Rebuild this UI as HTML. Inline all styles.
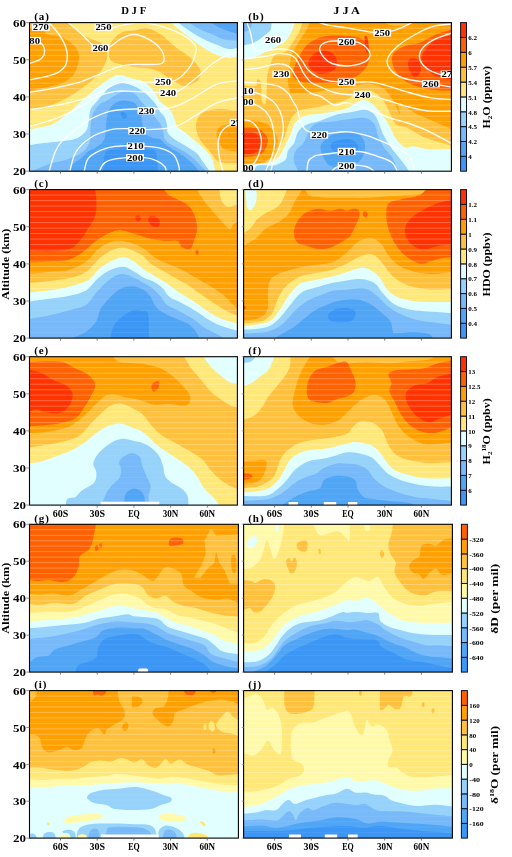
<!DOCTYPE html><html><head><meta charset="utf-8"><title>fig</title><style>html,body{margin:0;padding:0;background:#fff}svg{display:block}</style></head><body><svg width="512" height="857" viewBox="0 0 512 857" font-family="'Liberation Serif', serif" font-weight="bold" fill="#000"><rect width="512" height="857" fill="#fff"/><defs><clipPath id="ca"><rect x="29.5" y="22.6" width="207.9" height="148.6"/></clipPath><clipPath id="cb"><rect x="243.6" y="22.6" width="207.8" height="148.6"/></clipPath><clipPath id="cc"><rect x="29.5" y="189.6" width="207.9" height="148.5"/></clipPath><clipPath id="cd"><rect x="243.6" y="189.6" width="207.8" height="148.5"/></clipPath><clipPath id="ce"><rect x="29.5" y="356.7" width="207.9" height="148.4"/></clipPath><clipPath id="cf"><rect x="243.6" y="356.7" width="207.8" height="148.4"/></clipPath><clipPath id="cg"><rect x="29.5" y="524.3" width="208.9" height="147.8"/></clipPath><clipPath id="ch"><rect x="243.6" y="524.3" width="208.8" height="147.8"/></clipPath><clipPath id="ci"><rect x="29.5" y="690.6" width="208.9" height="147.5"/></clipPath><clipPath id="cj"><rect x="243.6" y="690.6" width="208.8" height="147.5"/></clipPath></defs><g clip-path="url(#ca)"><rect x="29.5" y="22.6" width="207.9" height="148.6" fill="#ffe878"/><path d="M67.3 20.0C69.4 22.1 76.0 29.3 79.8 32.4C83.6 35.5 86.7 36.9 90.1 38.6C93.6 40.4 97.8 41.0 100.5 42.8C103.2 44.5 105.2 46.2 106.3 49.0C107.3 51.7 107.6 55.5 106.7 59.3C105.7 63.1 103.2 68.0 100.5 71.8C97.7 75.6 95.3 78.0 90.1 82.1C84.9 86.2 76.3 92.6 69.4 96.6C62.5 100.6 56.3 103.8 48.7 105.9C41.1 108.1 28.0 108.9 23.9 109.4L23.9 15.9Z" fill="#ffc03c"/><path d="M23.9 26.2C26.6 26.7 36.3 27.9 40.4 29.3C44.6 30.7 44.9 33.1 48.7 34.5C52.5 35.9 58.5 35.2 63.2 37.6C67.9 40.0 74.1 45.0 76.7 49.0C79.2 53.0 79.4 56.9 78.7 61.4C78.0 65.9 75.8 72.1 72.5 75.9C69.2 79.7 64.4 82.1 59.1 84.2C53.7 86.2 46.3 87.1 40.4 88.3C34.6 89.5 26.6 90.9 23.9 91.4Z" fill="#ffa000"/><path d="M108.7 51.1C108.7 48.1 108.7 45.9 110.8 42.8C112.9 39.7 117.3 34.5 121.2 32.4C125.0 30.4 129.8 31.0 134.0 30.4C138.2 29.7 141.9 27.6 146.4 28.3C150.9 29.0 156.1 31.4 160.9 34.5C165.7 37.6 170.6 43.1 175.4 46.9C180.2 50.7 185.8 53.5 189.9 57.3C194.0 61.1 198.9 65.9 200.2 69.7C201.6 73.5 200.6 77.3 198.2 80.0C195.8 82.8 189.6 85.9 185.8 86.2C182.0 86.6 180.6 84.9 175.4 82.1C170.2 79.3 161.6 72.2 154.7 69.7C147.8 67.2 139.6 68.1 134.0 67.2C128.4 66.3 125.0 65.7 121.2 64.5C117.3 63.4 112.9 62.6 110.8 60.4C108.7 58.1 108.7 54.0 108.7 51.1Z" fill="#ffc03c"/><path d="M243.7 112.1C239.9 111.6 227.2 109.2 221.0 109.0C214.7 108.9 210.3 109.7 206.5 111.1C202.7 112.5 199.9 114.5 198.2 117.3C196.5 120.1 195.8 123.9 196.1 127.7C196.5 131.5 197.8 135.9 200.2 140.1C202.7 144.2 207.8 149.0 210.6 152.5C213.4 156.0 214.4 159.1 216.8 160.8C219.2 162.5 220.6 162.5 225.1 162.9C229.6 163.2 240.6 162.9 243.7 162.9Z" fill="#ffc03c"/><path d="M243.7 123.1C240.3 123.5 227.5 124.1 223.0 125.6C218.5 127.0 217.5 129.0 216.8 131.8C216.1 134.6 217.5 139.2 218.9 142.1C220.3 145.1 221.0 147.8 225.1 149.4C229.2 151.0 240.6 151.5 243.7 151.9Z" fill="#ffa000"/><path d="M29.5 28.10H237.4M29.5 33.61H237.4M29.5 39.11H237.4M29.5 44.61H237.4M29.5 50.12H237.4M29.5 55.62H237.4M29.5 61.13H237.4M29.5 66.63H237.4M29.5 72.13H237.4M29.5 77.64H237.4M29.5 83.14H237.4M29.5 88.64H237.4M29.5 94.15H237.4M29.5 99.65H237.4M29.5 105.16H237.4M29.5 110.66H237.4M29.5 116.16H237.4M29.5 121.67H237.4M29.5 127.17H237.4M29.5 132.67H237.4M29.5 138.18H237.4M29.5 143.68H237.4M29.5 149.19H237.4M29.5 154.69H237.4M29.5 160.19H237.4M29.5 165.70H237.4" stroke="#fff" stroke-opacity="0.3" stroke-width="0.75" fill="none"/><path d="M23.9 130.1C28.0 129.4 42.1 127.7 48.7 125.6C55.3 123.4 58.0 121.1 63.2 117.3C68.4 113.5 74.2 107.6 79.8 102.8C85.3 98.0 91.1 92.5 96.3 88.3C101.5 84.2 107.0 80.2 110.8 78.0C114.6 75.7 115.2 74.7 119.1 74.9C123.0 75.0 129.8 77.8 134.0 79.0C138.2 80.2 140.9 79.9 144.4 82.1C147.8 84.4 152.1 89.2 154.7 92.5C157.3 95.7 158.1 99.3 160.0 101.6C161.9 103.9 164.3 104.4 166.2 106.2C168.2 108.1 170.3 110.2 171.7 112.5C173.2 114.8 173.9 118.0 174.8 120.3C175.8 122.7 175.8 124.7 177.2 126.6C178.6 128.4 181.1 129.4 183.4 131.2C185.8 133.1 188.8 135.4 191.2 137.5C193.7 139.6 195.9 141.7 198.3 143.8C200.6 145.8 203.1 147.7 205.3 150.0C207.5 152.3 210.1 155.2 211.6 157.8C213.0 160.4 213.1 162.8 213.9 165.6C214.7 168.5 216.1 173.4 216.6 175.0L245.0 190.0L10.0 190.0Z" fill="#e1ffff"/><path d="M26.4 145.6C29.3 145.2 38.2 143.7 43.6 143.0C49.1 142.3 54.0 142.1 59.2 141.4C64.5 140.8 70.4 140.8 74.9 139.1C79.3 137.4 83.5 134.4 85.8 131.2C88.2 128.1 88.2 124.0 88.9 120.3C89.7 116.7 89.2 112.5 90.5 109.4C91.8 106.2 94.4 104.4 96.8 101.6C99.1 98.7 102.3 94.9 104.6 92.5C106.9 90.0 108.1 88.2 110.8 86.7C113.6 85.1 117.3 83.2 121.2 83.1C125.0 83.1 130.1 84.7 134.0 86.2C137.9 87.8 140.9 89.7 144.4 92.5C147.8 95.2 152.1 99.6 154.7 102.8C157.3 106.0 158.3 109.3 160.0 111.7C161.7 114.1 163.5 115.0 164.7 117.2C165.9 119.4 166.5 122.4 167.0 125.0C167.6 127.6 166.6 130.5 167.8 132.8C169.0 135.2 171.7 137.2 174.1 139.1C176.4 140.9 179.3 142.2 181.9 143.8C184.5 145.3 187.1 146.7 189.7 148.4C192.3 150.1 195.4 151.8 197.5 153.9C199.6 156.0 200.6 158.7 202.2 160.9C203.8 163.2 205.3 164.8 206.9 167.2C208.5 169.5 211.0 173.7 211.9 175.0L245.0 190.0L10.0 190.0Z" fill="#96d2fa"/><path d="M26.4 173.4C28.3 172.7 33.2 170.4 37.4 168.8C41.5 167.1 46.5 164.8 51.4 163.3C56.4 161.7 62.1 161.1 67.1 159.4C72.0 157.7 77.3 156.0 81.1 153.1C84.9 150.3 88.2 146.6 89.7 142.2C91.3 137.8 90.0 131.2 90.5 126.6C91.0 121.9 91.4 117.7 92.8 114.1C94.3 110.4 96.8 106.9 99.1 104.7C101.4 102.5 103.0 102.8 106.7 100.7C110.4 98.7 116.6 93.7 121.2 92.5C125.7 91.3 130.5 91.8 134.0 93.5C137.5 95.2 139.5 99.9 142.3 102.8C145.0 105.7 148.1 108.3 150.6 111.1C153.0 113.9 155.2 117.3 156.8 119.4C158.3 121.4 158.9 121.5 160.0 123.4C161.1 125.4 162.3 128.6 163.1 131.2C163.9 133.9 163.4 136.8 164.7 139.1C166.0 141.3 168.6 143.0 170.9 144.5C173.3 146.1 176.1 147.0 178.8 148.4C181.4 149.9 184.1 151.4 186.6 153.1C189.0 154.8 191.5 156.8 193.6 158.6C195.7 160.4 197.4 162.4 199.1 164.1C200.8 165.8 202.1 166.9 203.8 168.8C205.4 170.6 207.9 174.0 208.8 175.0L245.0 190.0L10.0 190.0Z" fill="#78b9fa"/><path d="M67.1 175.0C68.1 173.2 71.0 166.8 73.3 164.1C75.7 161.3 78.7 160.7 81.1 158.6C83.6 156.5 85.6 153.5 88.2 151.6C90.8 149.6 94.1 148.7 96.8 146.9C99.4 145.1 102.3 143.2 103.8 140.6C105.3 138.0 105.3 134.8 105.8 131.2C106.3 127.7 105.8 123.4 106.6 119.4C107.4 115.3 108.4 110.1 110.8 107.0C113.2 103.8 117.3 101.4 121.2 100.7C125.0 100.1 130.8 101.1 134.0 102.8C137.2 104.5 138.8 107.6 140.2 111.1C141.6 114.5 141.6 119.9 142.3 123.5C143.0 127.1 142.6 130.4 144.4 132.8C146.1 135.2 150.0 137.0 152.6 138.0C155.2 139.0 157.7 137.8 160.0 139.1C162.3 140.3 163.9 143.5 166.2 145.3C168.6 147.1 171.5 148.4 174.1 150.0C176.7 151.6 179.3 152.9 181.9 154.7C184.5 156.5 187.3 158.9 189.7 160.9C192.0 163.0 194.1 164.8 195.9 167.2C197.8 169.5 200.1 173.7 200.9 175.0L245.0 190.0L10.0 190.0Z" fill="#50a5f5"/><path d="M103.0 178.0C103.2 174.7 103.2 162.6 104.0 158.0C104.8 153.4 105.5 152.1 108.0 150.5C110.5 148.9 115.8 149.8 119.0 148.5C122.2 147.2 123.5 143.5 127.0 142.5C130.5 141.5 136.8 141.6 140.0 142.5C143.2 143.4 143.8 146.8 146.0 148.0C148.2 149.2 151.2 148.2 153.0 149.5C154.8 150.8 156.2 151.2 157.0 156.0C157.8 160.8 157.8 174.3 158.0 178.0Z" fill="#3c96f5"/><path d="M121.2 112.1C121.9 111.8 124.3 112.3 125.3 113.2C126.3 114.0 127.3 116.4 127.0 117.3C126.6 118.2 124.3 118.7 123.2 118.3C122.2 118.0 121.1 116.3 120.8 115.2C120.4 114.2 120.4 112.5 121.2 112.1Z" fill="#3c96f5"/><path d="M165.1 17.9C168.5 20.7 179.5 29.7 185.8 34.5C192.0 39.3 197.1 43.5 202.3 46.9C207.5 50.3 212.3 53.0 216.8 54.8C221.3 56.6 224.4 57.9 229.2 57.9C234.1 57.9 243.0 55.3 245.8 54.8L250.0 10.0Z" fill="#e1ffff"/><path d="M172.3 17.9C174.5 19.7 180.8 24.8 185.8 28.3C190.8 31.7 197.1 35.9 202.3 38.6C207.5 41.4 212.3 43.1 216.8 44.8C221.3 46.6 224.4 48.7 229.2 49.0C234.1 49.3 243.0 46.9 245.8 46.5L250.0 10.0Z" fill="#96d2fa"/><path d="M183.7 17.9C185.8 19.5 191.3 24.5 196.1 27.2C200.9 30.0 207.8 32.4 212.7 34.5C217.5 36.6 219.6 38.6 225.1 39.7C230.6 40.7 242.3 40.5 245.8 40.7L250.0 10.0Z" fill="#78b9fa"/><path d="M204.4 17.9C207.2 19.7 214.1 25.2 221.0 28.3C227.9 31.4 241.7 35.2 245.8 36.6L250.0 10.0Z" fill="#50a5f5"/><path d="M29.5 28.10H237.4M29.5 33.61H237.4M29.5 39.11H237.4M29.5 44.61H237.4M29.5 50.12H237.4M29.5 55.62H237.4M29.5 61.13H237.4M29.5 66.63H237.4M29.5 72.13H237.4M29.5 77.64H237.4M29.5 83.14H237.4M29.5 88.64H237.4M29.5 94.15H237.4M29.5 99.65H237.4M29.5 105.16H237.4M29.5 110.66H237.4M29.5 116.16H237.4M29.5 121.67H237.4M29.5 127.17H237.4M29.5 132.67H237.4M29.5 138.18H237.4M29.5 143.68H237.4M29.5 149.19H237.4M29.5 154.69H237.4M29.5 160.19H237.4M29.5 165.70H237.4" stroke="#fff" stroke-opacity="0.1" stroke-width="0.75" fill="none"/><path d="M25.9 37.6C28.3 38.5 37.3 40.5 40.4 42.8C43.5 45.0 44.6 48.3 44.6 51.1C44.6 53.8 43.5 57.1 40.4 59.3C37.3 61.6 28.3 63.6 25.9 64.5" fill="none" stroke="#fff" stroke-width="1.35" stroke-opacity="0.95"/><path d="M46.6 20.0C48.7 22.4 55.8 29.7 59.1 34.5C62.3 39.3 65.1 44.2 66.3 49.0C67.5 53.8 67.5 59.7 66.3 63.5C65.1 67.3 62.7 69.5 59.1 71.8C55.4 74.0 50.1 75.5 44.6 76.9C39.0 78.4 29.0 79.9 25.9 80.5" fill="none" stroke="#fff" stroke-width="1.35" stroke-opacity="0.95"/><path d="M65.3 20.0C67.7 22.1 76.0 29.0 79.8 32.4C83.6 35.9 85.3 38.2 88.0 40.7C90.8 43.2 93.0 46.1 96.3 47.3C99.6 48.5 103.6 49.4 107.7 47.9C111.8 46.5 116.8 40.9 121.2 38.6C125.5 36.4 129.8 34.6 134.0 34.5C138.2 34.4 142.3 36.1 146.4 38.2C150.6 40.3 155.9 43.7 158.8 46.9C161.8 50.1 163.8 54.4 164.0 57.3C164.2 60.1 164.9 62.7 159.9 63.9C154.9 65.1 140.8 64.1 134.0 64.5C127.2 65.0 124.7 65.0 119.1 66.6C113.5 68.1 107.0 71.2 100.5 73.8C93.9 76.4 87.7 79.7 79.8 82.1C71.8 84.5 61.8 86.5 52.8 88.3C43.9 90.1 30.4 92.1 25.9 92.9" fill="none" stroke="#fff" stroke-width="1.35" stroke-opacity="0.95"/><path d="M110.8 28.3C113.2 27.7 119.4 25.4 125.3 24.6C131.2 23.7 138.1 22.0 146.4 23.1C154.8 24.2 167.5 27.9 175.4 31.4C183.3 34.8 190.8 39.8 194.0 43.8C197.3 47.8 196.1 50.9 195.1 55.2C194.0 59.5 191.5 65.4 187.8 69.7C184.2 74.0 180.2 79.0 173.3 81.1C166.4 83.1 154.8 81.9 146.4 82.1C138.1 82.3 129.2 81.4 123.2 82.1C117.3 82.8 116.3 83.8 110.8 86.2C105.3 88.7 98.7 93.5 90.1 96.6C81.5 99.7 69.8 102.6 59.1 104.9C48.4 107.1 31.5 109.2 25.9 110.1" fill="none" stroke="#fff" stroke-width="1.35" stroke-opacity="0.95"/><path d="M241.7 51.1C239.2 51.7 232.0 53.1 227.2 55.2C222.3 57.3 217.8 59.7 212.7 63.5C207.5 67.3 202.0 73.3 196.1 78.0C190.2 82.6 183.7 89.0 177.5 91.4C171.3 93.8 166.1 92.5 158.8 92.5C151.6 92.5 141.3 91.6 134.0 91.4C126.7 91.3 121.2 90.5 115.0 91.4C108.7 92.4 102.2 94.4 96.3 97.0C90.5 99.6 86.0 103.6 79.8 107.0C73.5 110.3 68.0 113.9 59.1 117.3C50.1 120.8 31.5 125.9 25.9 127.7" fill="none" stroke="#fff" stroke-width="1.35" stroke-opacity="0.95"/><path d="M241.7 80.5C237.5 81.1 225.1 81.1 216.8 84.2C208.5 87.2 199.9 94.7 192.0 98.7C184.0 102.6 178.9 106.3 169.2 108.0C159.5 109.7 143.7 108.5 134.0 109.0C124.3 109.5 118.1 109.4 110.8 111.1C103.5 112.8 96.0 116.3 90.1 119.4C84.2 122.5 80.4 125.9 75.6 129.7C70.8 133.5 64.6 138.4 61.1 142.1C57.7 145.9 57.0 147.3 54.9 152.5C52.8 157.7 49.7 169.8 48.7 173.2" fill="none" stroke="#fff" stroke-width="1.35" stroke-opacity="0.95"/><path d="M241.7 97.0C237.5 98.0 224.4 99.8 216.8 102.8C209.2 105.8 203.0 111.3 196.1 115.2C189.2 119.2 183.7 124.2 175.4 126.6C167.1 129.0 154.1 129.4 146.4 129.7C138.8 130.1 135.4 128.7 129.4 128.7C123.5 128.7 117.4 128.2 110.8 129.7C104.3 131.3 96.0 134.2 90.1 138.0C84.2 141.8 79.1 146.6 75.6 152.5C72.2 158.4 70.4 169.8 69.4 173.2" fill="none" stroke="#fff" stroke-width="1.35" stroke-opacity="0.95"/><path d="M241.7 120.4C238.9 121.6 228.9 124.7 225.1 127.7C221.3 130.6 219.9 133.5 218.9 138.0C217.8 142.5 218.1 148.7 218.9 154.6C219.6 160.4 222.7 170.1 223.4 173.2" fill="none" stroke="#fff" stroke-width="1.35" stroke-opacity="0.95"/><path d="M83.9 173.2C84.6 170.8 85.3 162.5 88.0 158.7C90.8 154.9 96.0 152.5 100.5 150.4C104.9 148.4 107.3 147.0 115.0 146.3C122.6 145.6 138.8 145.9 146.4 146.3C154.1 146.6 156.4 147.0 160.9 148.4C165.4 149.7 170.4 151.8 173.3 154.6C176.3 157.3 177.5 161.8 178.5 164.9C179.5 168.0 179.4 171.8 179.5 173.2" fill="none" stroke="#fff" stroke-width="1.35" stroke-opacity="0.95"/><path d="M98.4 173.2C99.4 171.5 101.5 165.3 104.6 162.9C107.7 160.4 110.4 159.6 117.0 158.7C123.6 157.8 137.7 157.3 144.4 157.7C151.0 158.0 153.3 159.2 156.8 160.8C160.2 162.3 163.5 164.9 165.1 167.0C166.6 169.1 165.9 172.2 166.1 173.2" fill="none" stroke="#fff" stroke-width="1.35" stroke-opacity="0.95"/><rect x="31.9" y="23.5" width="17.8" height="7.4" fill="#fff"/><text x="32.8" y="30.2" font-size="8.8" textLength="16.0" lengthAdjust="spacingAndGlyphs">270</text><rect x="28.4" y="37.0" width="12.5" height="7.4" fill="#fff"/><text x="29.3" y="43.7" font-size="8.8" textLength="10.7" lengthAdjust="spacingAndGlyphs">80</text><rect x="94.6" y="23.5" width="17.8" height="7.4" fill="#fff"/><text x="95.5" y="30.2" font-size="8.8" textLength="16.0" lengthAdjust="spacingAndGlyphs">250</text><rect x="91.5" y="44.2" width="17.8" height="7.4" fill="#fff"/><text x="92.4" y="50.9" font-size="8.8" textLength="16.0" lengthAdjust="spacingAndGlyphs">260</text><rect x="154.1" y="78.0" width="17.8" height="7.4" fill="#fff"/><text x="155.0" y="84.7" font-size="8.8" textLength="16.0" lengthAdjust="spacingAndGlyphs">250</text><rect x="159.2" y="89.2" width="17.8" height="7.4" fill="#fff"/><text x="160.1" y="95.9" font-size="8.8" textLength="16.0" lengthAdjust="spacingAndGlyphs">240</text><rect x="137.5" y="107.0" width="17.8" height="7.4" fill="#fff"/><text x="138.4" y="113.7" font-size="8.8" textLength="16.0" lengthAdjust="spacingAndGlyphs">230</text><rect x="128.2" y="127.1" width="17.8" height="7.4" fill="#fff"/><text x="129.1" y="133.8" font-size="8.8" textLength="16.0" lengthAdjust="spacingAndGlyphs">220</text><rect x="126.7" y="142.6" width="17.8" height="7.4" fill="#fff"/><text x="127.6" y="149.3" font-size="8.8" textLength="16.0" lengthAdjust="spacingAndGlyphs">210</text><rect x="126.1" y="154.0" width="17.8" height="7.4" fill="#fff"/><text x="127.0" y="160.7" font-size="8.8" textLength="16.0" lengthAdjust="spacingAndGlyphs">200</text><rect x="229.6" y="118.8" width="12.5" height="7.4" fill="#fff"/><text x="230.5" y="125.5" font-size="8.8" textLength="10.7" lengthAdjust="spacingAndGlyphs">27</text></g><rect x="29.5" y="22.6" width="207.9" height="148.6" fill="none" stroke="#000" stroke-width="1.1"/><text x="34.2" y="19.9" font-size="11" letter-spacing="0.9">(a)</text><path d="M29.5 22.6h-3.2" stroke="#777" stroke-width="0.8"/><text x="13.0" y="26.7" font-size="10.9" textLength="13.0" lengthAdjust="spacingAndGlyphs">60</text><path d="M29.5 59.8h-3.2" stroke="#777" stroke-width="0.8"/><text x="13.0" y="63.9" font-size="10.9" textLength="13.0" lengthAdjust="spacingAndGlyphs">50</text><path d="M29.5 96.9h-3.2" stroke="#777" stroke-width="0.8"/><text x="13.0" y="101.0" font-size="10.9" textLength="13.0" lengthAdjust="spacingAndGlyphs">40</text><path d="M29.5 134.0h-3.2" stroke="#777" stroke-width="0.8"/><text x="13.0" y="138.1" font-size="10.9" textLength="13.0" lengthAdjust="spacingAndGlyphs">30</text><path d="M29.5 171.2h-3.2" stroke="#777" stroke-width="0.8"/><text x="13.0" y="175.3" font-size="10.9" textLength="13.0" lengthAdjust="spacingAndGlyphs">20</text><path d="M60.5 171.2v2.5" stroke="#555" stroke-width="0.8"/><path d="M97.2 171.2v2.5" stroke="#555" stroke-width="0.8"/><path d="M133.9 171.2v2.5" stroke="#555" stroke-width="0.8"/><path d="M170.6 171.2v2.5" stroke="#555" stroke-width="0.8"/><path d="M207.3 171.2v2.5" stroke="#555" stroke-width="0.8"/><g clip-path="url(#cb)"><rect x="243.6" y="22.6" width="207.8" height="148.6" fill="#ffa000"/><path d="M292.8 75.9C291.7 72.4 294.5 66.6 296.9 61.4C299.3 56.2 302.8 49.0 307.2 44.8C311.7 40.7 317.6 38.1 323.8 36.6C330.0 35.0 338.3 35.4 344.5 35.7C350.7 36.1 356.9 36.1 361.1 38.6C365.2 41.2 368.3 46.6 369.4 51.1C370.4 55.5 369.4 61.4 367.3 65.5C365.2 69.7 361.4 73.1 356.9 75.9C352.5 78.7 346.6 80.9 340.4 82.1C334.2 83.3 325.9 82.9 319.7 82.9C313.5 82.9 307.6 83.3 303.1 82.1C298.6 80.9 293.8 79.3 292.8 75.9Z" fill="#ff6000"/><path d="M308.5 65.5C307.7 62.5 310.1 57.7 312.6 55.2C315.2 52.7 320.2 50.6 323.8 50.6C327.5 50.6 332.4 52.7 334.6 55.2C336.8 57.7 337.8 62.7 337.1 65.5C336.3 68.4 333.3 70.9 330.0 72.2C326.8 73.5 321.2 74.5 317.6 73.4C314.0 72.3 309.3 68.6 308.5 65.5Z" fill="#ff3200"/><path d="M364.6 36.6C364.9 34.5 367.0 36.2 367.7 38.6C368.4 41.0 369.1 49.0 368.7 51.1C368.4 53.1 366.3 53.5 365.6 51.1C364.9 48.6 364.3 38.6 364.6 36.6Z" fill="#ff3200"/><path d="M456.7 28.3C453.3 29.3 442.2 32.1 436.0 34.5C429.8 36.9 425.0 40.7 419.5 42.8C413.9 44.8 407.4 44.8 402.9 46.9C398.4 49.0 393.9 51.4 392.5 55.2C391.2 59.0 392.2 65.2 394.6 69.7C397.0 74.2 402.2 79.0 407.0 82.1C411.9 85.2 418.1 86.9 423.6 88.3C429.1 89.7 434.6 90.0 440.2 90.4C445.7 90.7 454.0 90.4 456.7 90.4Z" fill="#ff6000"/><path d="M456.7 34.5C453.6 35.2 442.9 36.6 438.1 38.6C433.3 40.7 430.5 43.8 427.7 46.9C425.0 50.0 421.9 53.8 421.5 57.3C421.2 60.7 423.3 64.5 425.7 67.6C428.1 70.7 430.8 73.8 436.0 75.9C441.2 78.0 453.3 79.7 456.7 80.5Z" fill="#ff3200"/><path d="M408.1 61.4C408.6 59.2 411.4 58.3 413.2 58.3C415.1 58.3 418.3 59.2 419.5 61.4C420.7 63.6 421.2 69.2 420.5 71.8C419.8 74.3 417.0 76.9 415.3 76.9C413.6 76.9 411.4 74.3 410.1 71.8C408.9 69.2 407.6 63.6 408.1 61.4Z" fill="#ff3200"/><path d="M378.1 19.0C379.8 19.9 384.6 23.4 388.4 24.6C392.2 25.7 396.7 26.0 400.8 25.8C405.0 25.6 410.5 24.2 413.2 23.1C416.0 22.0 416.7 19.7 417.4 19.0Z" fill="#ffc03c"/><path d="M311.3 18.4C310.5 20.3 308.7 25.5 306.6 29.4C304.5 33.3 301.2 38.0 298.8 41.9C296.5 45.8 294.1 48.6 292.6 52.8C291.0 57.0 290.2 61.9 289.4 66.9C288.7 71.8 287.6 77.8 287.9 82.5C288.1 87.2 290.6 93.2 291.0 95.0C291.4 96.8 286.3 93.9 290.0 93.4C293.7 93.0 306.4 93.0 313.4 92.3C320.5 91.5 326.6 89.5 332.2 88.8C337.8 88.0 342.3 88.3 347.0 87.6C351.6 86.9 356.1 85.1 360.3 84.5C364.5 83.9 368.1 83.4 372.0 84.1C375.9 84.8 380.2 86.0 383.8 88.8C387.3 91.5 390.4 96.2 393.1 100.5C395.9 104.8 399.2 114.1 400.2 114.5C401.1 114.9 396.2 103.0 398.8 102.8C401.3 102.6 409.5 110.1 415.3 113.2C421.2 116.3 427.1 118.4 434.0 121.4C440.9 124.5 452.9 129.7 456.7 131.4L460.0 180.0L235.0 180.0L235.0 10.0Z" fill="#ffc03c"/><path d="M237.9 119.6C241.0 119.8 251.4 120.1 256.6 121.1C261.8 122.2 265.7 123.2 269.1 125.8C272.5 128.4 275.6 133.4 276.9 136.8C278.2 140.1 277.7 143.0 276.9 146.1C276.2 149.2 274.3 152.9 272.2 155.5C270.2 158.1 267.6 160.4 264.4 161.8C261.3 163.1 257.9 163.1 253.5 163.3C249.1 163.6 240.5 163.3 237.9 163.3Z" fill="#ffa000"/><path d="M237.9 126.6C241.0 126.9 251.9 126.7 256.6 128.2C261.3 129.6 264.2 132.7 266.0 135.2C267.8 137.7 268.1 140.1 267.6 143.0C267.0 145.9 265.2 150.2 262.9 152.4C260.5 154.6 257.7 155.5 253.5 156.3C249.3 157.1 240.5 156.9 237.9 157.1Z" fill="#ff6000"/><path d="M237.9 132.1C240.5 132.2 249.7 131.8 253.5 132.8C257.3 133.9 259.2 136.4 260.5 138.3C261.8 140.3 261.7 142.5 261.3 144.6C260.9 146.6 260.0 149.2 258.2 150.8C256.4 152.4 253.8 153.4 250.4 153.9C247.0 154.5 240.0 154.2 237.9 154.2Z" fill="#ff3200"/><path d="M303.5 18.4C302.7 20.8 300.9 28.1 298.8 32.5C296.7 36.9 293.1 41.9 291.0 45.0C288.9 48.1 288.1 49.9 286.3 51.2C284.5 52.6 282.0 52.5 280.1 53.1C278.1 53.8 276.1 53.7 274.6 55.2C273.1 56.6 272.2 59.3 271.2 61.7C270.3 64.1 269.6 67.2 268.9 69.5C268.3 71.9 267.7 73.6 267.3 75.8C267.0 78.0 267.1 79.8 267.0 82.8C266.8 85.8 266.8 90.4 266.6 93.8C266.4 97.1 266.3 101.4 265.8 103.1C265.3 104.8 264.2 104.7 263.4 103.9C262.7 103.1 261.9 101.3 261.5 98.4C261.0 95.6 262.2 88.7 260.7 86.7C259.2 84.7 254.6 86.5 252.5 86.3C250.4 86.2 249.6 86.1 247.8 85.9C246.0 85.8 242.6 85.4 241.6 85.3L235.0 10.0Z" fill="#ffe878"/><path d="M256.8 81.2C257.1 78.5 258.1 79.4 258.8 79.7C259.4 79.9 260.4 80.5 260.7 82.8C261.0 85.2 260.9 91.4 260.7 93.8C260.5 96.1 260.2 96.5 259.5 96.9C258.9 97.3 257.3 98.7 256.8 96.1C256.3 93.5 256.5 84.0 256.8 81.2Z" fill="#ffc03c"/><path d="M247.2 175.8C247.8 174.2 248.0 168.4 250.4 166.4C252.7 164.5 258.2 165.0 261.3 164.1C264.4 163.2 266.8 162.4 269.1 161.0C271.5 159.5 273.6 158.0 275.4 155.5C277.2 153.0 278.5 149.2 280.1 146.1C281.6 143.0 283.4 140.1 284.8 136.8C286.1 133.4 286.6 129.2 287.9 125.8C289.2 122.4 290.7 118.9 292.6 116.4C294.4 114.0 296.2 112.3 298.8 111.0C301.4 109.7 304.5 109.4 308.2 108.6C311.9 107.9 316.2 107.3 320.9 106.3C325.7 105.4 332.5 104.0 336.9 102.8C341.2 101.6 343.8 100.9 347.0 99.3C350.1 97.7 353.0 94.9 355.6 93.4C358.2 92.0 359.9 90.9 362.7 90.6C365.4 90.3 368.9 90.3 372.0 91.6C375.2 92.8 378.7 95.1 381.4 98.1C384.1 101.2 386.1 105.5 388.4 109.8C390.8 114.1 392.4 120.9 395.5 123.9C398.6 126.9 402.4 125.5 407.0 127.7C411.7 129.8 418.1 134.5 423.6 137.0C429.1 139.5 434.6 140.9 440.2 142.6C445.7 144.3 454.0 146.4 456.7 147.1L460.0 180.0L245.0 180.0Z" fill="#ffe878"/><path d="M243.6 28.10H451.4M243.6 33.61H451.4M243.6 39.11H451.4M243.6 44.61H451.4M243.6 50.12H451.4M243.6 55.62H451.4M243.6 61.13H451.4M243.6 66.63H451.4M243.6 72.13H451.4M243.6 77.64H451.4M243.6 83.14H451.4M243.6 88.64H451.4M243.6 94.15H451.4M243.6 99.65H451.4M243.6 105.16H451.4M243.6 110.66H451.4M243.6 116.16H451.4M243.6 121.67H451.4M243.6 127.17H451.4M243.6 132.67H451.4M243.6 138.18H451.4M243.6 143.68H451.4M243.6 149.19H451.4M243.6 154.69H451.4M243.6 160.19H451.4M243.6 165.70H451.4" stroke="#fff" stroke-opacity="0.3" stroke-width="0.75" fill="none"/><path d="M295.7 18.4C295.2 20.3 294.1 25.7 292.6 29.4C291.0 33.0 288.9 37.4 286.3 40.3C283.7 43.2 280.6 44.5 276.9 46.6C273.3 48.6 268.3 51.0 264.4 52.8C260.5 54.6 257.9 56.4 253.5 57.5C249.1 58.6 240.5 59.3 237.9 59.7L235.0 10.0Z" fill="#e1ffff"/><path d="M271.5 18.4C271.3 20.3 271.9 26.5 270.7 29.4C269.5 32.2 266.5 33.8 264.4 35.6C262.4 37.4 260.3 39.0 258.2 40.3C256.1 41.6 255.3 42.4 251.9 43.4C248.6 44.4 240.2 45.8 237.9 46.2L235.0 10.0Z" fill="#96d2fa"/><path d="M252.7 18.4C252.4 20.0 251.7 25.7 250.7 27.8C249.6 29.9 248.6 30.5 246.5 31.2C244.3 32.0 239.3 32.0 237.9 32.2L235.0 10.0Z" fill="#78b9fa"/><path d="M249.6 175.8C250.0 174.2 250.8 168.4 251.9 166.4C253.1 164.5 254.0 164.6 256.6 164.1C259.2 163.6 264.2 164.2 267.6 163.3C270.9 162.4 274.6 160.4 276.9 158.6C279.3 156.8 280.1 155.0 281.6 152.4C283.2 149.8 284.8 146.1 286.3 143.0C287.9 139.9 289.7 136.8 291.0 133.6C292.3 130.5 292.6 126.9 294.1 124.2C295.7 121.6 298.0 119.6 300.4 118.0C302.7 116.4 304.8 115.6 308.2 114.9C311.6 114.1 316.2 114.0 320.9 113.4C325.7 112.7 332.3 112.0 336.9 111.0C341.5 110.0 345.1 109.1 348.6 107.5C352.1 105.9 355.4 102.9 358.0 101.6C360.5 100.4 361.7 99.8 363.8 100.0C366.0 100.2 368.3 101.0 370.9 102.8C373.4 104.6 376.1 107.5 379.1 111.0C382.0 114.5 385.7 119.4 388.4 123.9C391.2 128.4 392.7 134.1 395.5 138.0C398.2 141.9 401.9 146.0 404.8 147.3C407.8 148.7 409.1 145.9 413.2 146.3C417.4 146.6 422.6 149.0 429.8 149.4C437.1 149.8 452.2 148.9 456.7 148.8L460.0 180.0L245.0 180.0Z" fill="#e1ffff"/><path d="M252.7 175.8C253.1 174.5 253.9 169.8 255.1 168.0C256.2 166.2 256.9 165.6 259.8 165.2C262.6 164.8 268.9 166.0 272.2 165.7C275.6 165.3 277.7 164.5 280.1 163.3C282.4 162.1 285.0 160.7 286.3 158.6C287.6 156.5 286.6 153.4 287.9 150.8C289.2 148.2 292.6 145.9 294.1 143.0C295.7 140.1 295.9 136.2 297.2 133.6C298.6 131.0 299.9 129.1 301.9 127.4C304.0 125.7 306.6 124.6 309.8 123.5C312.9 122.3 316.4 121.9 320.9 120.4C325.5 118.9 331.9 115.9 336.9 114.5C341.9 113.2 346.2 113.0 350.9 112.2C355.6 111.4 361.1 109.5 365.0 109.8C368.9 110.2 372.0 112.2 374.4 114.5C376.7 116.9 377.5 120.4 379.1 123.9C380.6 127.4 381.8 131.7 383.8 135.6C385.7 139.5 388.0 143.4 390.8 147.3C393.5 151.2 397.4 155.5 400.2 159.1C402.9 162.6 405.0 165.3 407.2 168.4C409.3 171.6 412.1 176.2 413.0 177.8L400.0 180.0L250.0 180.0Z" fill="#96d2fa"/><path d="M301.2 175.8C300.0 173.5 295.0 165.9 294.1 161.8C293.2 157.6 294.1 153.9 295.7 150.8C297.2 147.7 300.5 147.3 303.5 143.0C306.5 138.7 308.7 128.7 313.4 125.1C318.2 121.5 326.3 122.5 332.2 121.6C338.0 120.6 343.1 119.8 348.6 119.2C354.1 118.6 360.7 117.3 365.0 118.0C369.3 118.8 372.2 121.0 374.4 123.9C376.5 126.8 376.3 131.7 377.9 135.6C379.5 139.5 381.2 143.4 383.8 147.3C386.3 151.2 390.5 154.0 393.1 159.1C395.8 164.1 398.6 174.7 399.7 177.8L380.0 180.0L300.0 180.0Z" fill="#78b9fa"/><path d="M320.5 147.3C320.5 143.0 324.8 140.3 327.5 138.0C330.2 135.6 333.0 134.3 336.9 133.3C340.8 132.3 347.0 131.7 350.9 132.1C354.8 132.5 358.0 133.5 360.3 135.6C362.7 137.8 364.6 141.5 365.0 145.0C365.4 148.5 364.2 153.6 362.7 156.7C361.1 159.8 359.1 161.8 355.6 163.8C352.1 165.7 346.2 168.4 341.6 168.4C336.9 168.4 331.0 167.3 327.5 163.8C324.0 160.2 320.5 151.6 320.5 147.3Z" fill="#50a5f5"/><path d="M332.2 142.7C334.9 140.9 344.3 138.8 348.6 139.1C352.9 139.5 356.8 142.9 358.0 145.0C359.1 147.1 358.4 150.5 355.6 152.0C352.9 153.6 345.5 154.8 341.6 154.4C337.7 154.0 333.8 151.6 332.2 149.7C330.6 147.7 329.5 144.4 332.2 142.7Z" fill="#3c96f5"/><path d="M243.6 28.10H451.4M243.6 33.61H451.4M243.6 39.11H451.4M243.6 44.61H451.4M243.6 50.12H451.4M243.6 55.62H451.4M243.6 61.13H451.4M243.6 66.63H451.4M243.6 72.13H451.4M243.6 77.64H451.4M243.6 83.14H451.4M243.6 88.64H451.4M243.6 94.15H451.4M243.6 99.65H451.4M243.6 105.16H451.4M243.6 110.66H451.4M243.6 116.16H451.4M243.6 121.67H451.4M243.6 127.17H451.4M243.6 132.67H451.4M243.6 138.18H451.4M243.6 143.68H451.4M243.6 149.19H451.4M243.6 154.69H451.4M243.6 160.19H451.4M243.6 165.70H451.4" stroke="#fff" stroke-opacity="0.1" stroke-width="0.75" fill="none"/><path d="M348.7 40.7C345.2 40.9 332.8 40.5 328.0 41.7C323.1 42.9 320.4 45.4 319.7 47.9C319.0 50.5 321.7 54.7 323.8 57.3C325.9 59.9 328.2 62.0 332.1 63.5C336.0 64.9 341.8 66.1 347.0 66.0C352.2 65.8 359.8 64.1 363.6 62.4C367.4 60.8 369.1 58.5 369.8 56.2C370.5 54.0 369.4 51.2 367.7 49.0C366.0 46.7 363.2 44.2 359.4 42.8C355.6 41.4 347.3 41.0 344.9 40.7" fill="none" stroke="#fff" stroke-width="1.35" stroke-opacity="0.95"/><path d="M312.4 20.0C315.0 20.9 322.2 23.9 328.0 25.2C333.7 26.5 339.3 26.7 347.0 27.9C354.7 29.1 366.7 31.8 373.9 32.4C381.2 33.0 384.6 32.8 390.5 31.4C396.3 30.0 404.8 26.2 409.1 24.1C413.4 22.1 415.1 19.8 416.4 19.0" fill="none" stroke="#fff" stroke-width="1.35" stroke-opacity="0.95"/><path d="M456.7 23.7C452.9 24.1 440.9 24.4 434.0 26.2C427.1 28.0 421.5 31.0 415.3 34.5C409.1 37.9 401.3 42.8 396.7 46.9C392.0 51.1 388.4 55.5 387.4 59.3C386.3 63.1 387.9 66.6 390.5 69.7C393.1 72.8 397.4 75.9 402.9 78.0C408.4 80.0 417.4 80.9 423.6 82.1C429.8 83.3 434.6 84.2 440.2 85.2C445.7 86.2 454.0 87.5 456.7 87.9" fill="none" stroke="#fff" stroke-width="1.35" stroke-opacity="0.95"/><path d="M456.7 31.4C453.3 32.6 441.5 36.0 436.0 38.6C430.5 41.2 426.4 43.8 423.6 46.9C420.8 50.0 419.1 53.8 419.5 57.3C419.8 60.7 422.6 64.9 425.7 67.6C428.8 70.4 432.9 72.3 438.1 73.8C443.3 75.4 453.6 76.4 456.7 76.9" fill="none" stroke="#fff" stroke-width="1.35" stroke-opacity="0.95"/><path d="M245.7 19.2C246.5 21.4 249.2 28.5 250.4 32.5C251.5 36.5 251.9 40.4 252.7 43.4C253.5 46.4 253.1 49.2 255.1 50.5C257.0 51.8 260.3 51.5 264.4 51.2C268.6 51.0 275.1 48.8 280.1 48.9C285.0 49.0 290.5 50.1 294.1 52.0C297.8 54.0 299.6 57.6 301.9 60.6C304.3 63.6 305.6 67.3 308.2 70.0C310.8 72.7 313.9 75.2 317.6 77.0C321.2 78.9 323.7 80.2 330.0 81.1C336.3 81.9 348.3 81.9 355.3 82.1C362.3 82.3 366.3 81.4 371.8 82.1C377.4 82.8 382.2 84.5 388.4 86.2C394.6 88.0 402.2 90.6 409.1 92.5C416.0 94.4 421.9 96.4 429.8 97.6C437.7 98.9 452.2 99.5 456.7 99.9" fill="none" stroke="#fff" stroke-width="1.35" stroke-opacity="0.95"/><path d="M239.4 59.1C242.3 58.8 251.9 58.0 256.6 57.5C261.3 57.0 263.7 56.6 267.6 55.9C271.5 55.3 275.9 53.6 280.1 53.6C284.2 53.6 289.4 54.2 292.6 55.9C295.7 57.6 297.0 60.9 298.8 63.8C300.6 66.6 301.4 70.0 303.5 73.1C305.6 76.2 308.4 80.2 311.3 82.5C314.2 84.8 317.2 85.5 321.0 87.2C324.8 88.8 329.8 91.2 334.2 92.5C338.5 93.7 340.9 94.0 347.0 94.5C353.1 95.0 363.9 94.5 370.8 95.6C377.7 96.6 382.0 98.8 388.4 100.7C394.8 102.6 402.2 105.2 409.1 107.0C416.0 108.7 421.9 110.4 429.8 111.1C437.7 111.8 452.2 111.1 456.7 111.1" fill="none" stroke="#fff" stroke-width="1.35" stroke-opacity="0.95"/><path d="M239.4 70.0C242.3 69.7 251.7 69.2 256.6 68.4C261.6 67.7 265.2 66.1 269.1 65.3C273.0 64.5 276.7 63.5 280.1 63.8C283.4 64.0 286.8 64.8 289.4 66.9C292.0 69.0 293.6 73.1 295.7 76.2C297.8 79.4 299.3 82.8 301.9 85.6C304.5 88.5 308.1 91.6 311.3 93.4C314.5 95.3 317.2 94.7 321.0 96.6C324.8 98.5 329.8 103.8 334.2 104.9C338.5 105.9 341.4 102.1 347.0 102.8C352.6 103.5 360.8 106.6 367.7 109.0C374.6 111.4 381.5 114.9 388.4 117.3C395.3 119.7 402.2 121.1 409.1 123.5C416.0 125.9 421.9 128.0 429.8 131.8C437.7 135.6 452.2 143.9 456.7 146.3" fill="none" stroke="#fff" stroke-width="1.35" stroke-opacity="0.95"/><path d="M238.9 82.1C242.7 82.3 255.1 82.5 261.7 83.1C268.3 83.8 273.9 84.6 278.3 86.2C282.6 87.9 285.4 90.4 287.8 92.9C290.2 95.3 291.0 98.2 292.6 100.8C294.1 103.4 295.9 105.2 297.2 108.6C298.6 112.0 298.8 117.5 300.4 121.1C301.9 124.8 303.2 128.4 306.6 130.5C310.1 132.6 314.3 133.7 321.0 133.9C327.7 134.2 339.2 131.5 347.0 131.8C354.8 132.1 360.8 133.9 367.7 135.9C374.6 138.0 382.2 141.5 388.4 144.2C394.6 147.0 400.8 149.4 405.0 152.5C409.1 155.6 411.9 159.1 413.2 162.9C414.6 166.6 413.2 173.2 413.2 175.3" fill="none" stroke="#fff" stroke-width="1.35" stroke-opacity="0.95"/><path d="M238.9 91.4C241.9 91.7 251.1 91.4 256.6 93.0C262.2 94.6 268.3 97.7 272.2 100.8C276.2 103.9 278.2 107.8 280.1 111.8C281.9 115.7 282.8 120.1 283.2 124.2C283.6 128.4 283.2 132.6 282.4 136.8C281.6 140.9 279.9 145.3 278.5 149.2C277.1 153.2 275.2 156.0 273.8 160.2C272.4 164.4 270.6 171.9 269.9 174.2" fill="none" stroke="#fff" stroke-width="1.35" stroke-opacity="0.95"/><path d="M238.9 102.4C241.1 102.5 247.7 101.9 251.9 103.2C256.2 104.5 261.3 107.5 264.4 110.2C267.6 112.9 269.1 115.9 270.7 119.6C272.2 123.2 273.2 127.9 273.8 132.1C274.5 136.2 274.9 140.7 274.6 144.6C274.3 148.5 273.4 151.9 272.2 155.5C271.1 159.1 268.9 163.3 267.6 166.4C266.3 169.6 265.0 172.9 264.4 174.2" fill="none" stroke="#fff" stroke-width="1.35" stroke-opacity="0.95"/><path d="M239.4 119.6C241.3 119.8 247.5 120.0 250.4 121.1C253.2 122.3 254.9 124.2 256.6 126.6C258.3 128.9 259.8 132.2 260.5 135.2C261.3 138.2 261.6 141.4 261.3 144.6C261.1 147.7 260.0 151.1 259.0 153.9C257.9 156.8 256.5 159.7 255.1 161.8C253.6 163.8 252.2 165.3 250.4 166.4C248.6 167.6 245.2 168.4 244.1 168.8" fill="none" stroke="#fff" stroke-width="1.35" stroke-opacity="0.95"/><path d="M306.6 175.8C306.9 173.5 307.1 164.9 308.2 161.8C309.2 158.6 310.7 158.2 312.9 157.1C315.0 155.9 313.6 155.7 321.0 154.7C328.4 153.8 347.8 151.1 357.4 151.5C366.9 151.8 372.2 154.7 378.1 156.6C383.9 158.5 389.1 159.7 392.5 162.9C396.0 166.0 397.7 173.2 398.8 175.3" fill="none" stroke="#fff" stroke-width="1.35" stroke-opacity="0.95"/><path d="M330.0 173.2C331.1 172.2 333.4 168.8 336.2 167.4C339.1 166.0 341.8 165.0 347.0 164.9C352.2 164.9 362.5 165.3 367.7 167.0C372.9 168.7 376.3 173.9 378.1 175.3" fill="none" stroke="#fff" stroke-width="1.35" stroke-opacity="0.95"/><rect x="264.2" y="36.0" width="17.8" height="7.4" fill="#fff"/><text x="265.1" y="42.7" font-size="8.8" textLength="16.0" lengthAdjust="spacingAndGlyphs">260</text><rect x="272.4" y="70.5" width="17.8" height="7.4" fill="#fff"/><text x="273.3" y="77.2" font-size="8.8" textLength="16.0" lengthAdjust="spacingAndGlyphs">230</text><rect x="236.6" y="87.7" width="17.8" height="7.4" fill="#fff"/><text x="237.5" y="94.4" font-size="8.8" textLength="16.0" lengthAdjust="spacingAndGlyphs">210</text><rect x="236.6" y="98.7" width="17.8" height="7.4" fill="#fff"/><text x="237.5" y="105.4" font-size="8.8" textLength="16.0" lengthAdjust="spacingAndGlyphs">200</text><rect x="236.6" y="164.3" width="17.8" height="7.4" fill="#fff"/><text x="237.5" y="171.0" font-size="8.8" textLength="16.0" lengthAdjust="spacingAndGlyphs">200</text><rect x="310.3" y="131.2" width="17.8" height="7.4" fill="#fff"/><text x="311.2" y="137.9" font-size="8.8" textLength="16.0" lengthAdjust="spacingAndGlyphs">220</text><rect x="337.7" y="38.0" width="17.8" height="7.4" fill="#fff"/><text x="338.6" y="44.7" font-size="8.8" textLength="16.0" lengthAdjust="spacingAndGlyphs">260</text><rect x="337.7" y="78.4" width="17.8" height="7.4" fill="#fff"/><text x="338.6" y="85.1" font-size="8.8" textLength="16.0" lengthAdjust="spacingAndGlyphs">250</text><rect x="337.7" y="147.8" width="17.8" height="7.4" fill="#fff"/><text x="338.6" y="154.5" font-size="8.8" textLength="16.0" lengthAdjust="spacingAndGlyphs">210</text><rect x="337.7" y="162.3" width="17.8" height="7.4" fill="#fff"/><text x="338.6" y="169.0" font-size="8.8" textLength="16.0" lengthAdjust="spacingAndGlyphs">200</text><rect x="373.3" y="29.1" width="17.8" height="7.4" fill="#fff"/><text x="374.2" y="35.8" font-size="8.8" textLength="16.0" lengthAdjust="spacingAndGlyphs">250</text><rect x="421.9" y="80.1" width="17.8" height="7.4" fill="#fff"/><text x="422.8" y="86.8" font-size="8.8" textLength="16.0" lengthAdjust="spacingAndGlyphs">260</text><rect x="440.6" y="70.5" width="17.8" height="7.4" fill="#fff"/><text x="441.5" y="77.2" font-size="8.8" textLength="16.0" lengthAdjust="spacingAndGlyphs">270</text><rect x="353.6" y="90.8" width="17.8" height="7.4" fill="#fff"/><text x="354.5" y="97.5" font-size="8.8" textLength="16.0" lengthAdjust="spacingAndGlyphs">240</text></g><rect x="243.6" y="22.6" width="207.8" height="148.6" fill="none" stroke="#000" stroke-width="1.1"/><text x="248.3" y="19.9" font-size="11" letter-spacing="0.9">(b)</text><path d="M243.6 22.6h-2" stroke="#999" stroke-width="0.8"/><path d="M243.6 59.8h-2" stroke="#999" stroke-width="0.8"/><path d="M243.6 96.9h-2" stroke="#999" stroke-width="0.8"/><path d="M243.6 134.0h-2" stroke="#999" stroke-width="0.8"/><path d="M243.6 171.2h-2" stroke="#999" stroke-width="0.8"/><path d="M274.6 171.2v2.5" stroke="#555" stroke-width="0.8"/><path d="M311.3 171.2v2.5" stroke="#555" stroke-width="0.8"/><path d="M348.0 171.2v2.5" stroke="#555" stroke-width="0.8"/><path d="M384.7 171.2v2.5" stroke="#555" stroke-width="0.8"/><path d="M421.4 171.2v2.5" stroke="#555" stroke-width="0.8"/><g clip-path="url(#cc)"><rect x="29.5" y="189.6" width="207.9" height="148.5" fill="#ffa000"/><path d="M160.9 184.9C162.3 186.7 165.1 192.2 169.2 195.3C173.3 198.4 181.6 200.5 185.8 203.6C189.9 206.7 192.1 209.8 194.0 213.9C195.9 218.1 197.1 223.9 197.1 228.4C197.1 232.9 195.2 237.4 194.0 240.8C192.8 244.3 192.0 248.1 189.9 249.1C187.8 250.1 183.7 248.4 181.6 247.0C179.5 245.7 180.2 241.9 177.5 240.8C174.7 239.8 169.5 241.2 165.1 240.8C160.6 240.5 155.7 239.9 150.6 238.8C145.4 237.6 137.9 235.0 134.0 233.8C130.1 232.6 130.2 232.1 127.4 231.5C124.5 231.0 120.5 230.0 117.0 230.5C113.6 231.0 110.1 232.9 106.7 234.6C103.2 236.3 100.1 238.1 96.3 240.8C92.5 243.6 88.4 248.1 83.9 251.2C79.4 254.3 75.3 257.7 69.4 259.5C63.5 261.2 55.9 261.0 48.7 261.5C41.5 262.0 29.7 262.4 25.9 262.6L20.0 180.0Z" fill="#ff6000"/><path d="M94.2 184.9C94.6 187.3 96.1 194.2 96.3 199.4C96.5 204.6 96.7 211.2 95.3 216.0C93.9 220.8 90.6 224.3 88.0 228.4C85.5 232.5 82.9 237.4 79.8 240.8C76.7 244.3 74.6 247.4 69.4 249.1C64.2 250.8 55.9 251.0 48.7 251.2C41.5 251.4 29.7 250.3 25.9 250.1L20.0 180.0Z" fill="#ff3200"/><path d="M136.1 216.0C136.8 215.5 139.0 215.4 139.8 216.0C140.6 216.6 141.0 218.8 140.6 219.7C140.3 220.6 138.6 221.3 137.7 221.2C136.9 221.1 135.9 220.0 135.7 219.1C135.4 218.2 135.4 216.5 136.1 216.0Z" fill="#ff3200"/><path d="M148.9 217.0C149.7 216.0 151.9 215.5 153.7 216.0C155.4 216.5 158.4 218.4 159.3 220.1C160.1 221.9 159.9 225.3 158.8 226.3C157.7 227.4 154.3 227.0 152.6 226.3C151.0 225.6 149.5 223.7 148.9 222.2C148.3 220.6 148.1 218.1 148.9 217.0Z" fill="#ff3200"/><path d="M195.7 250.1C196.0 249.5 197.7 249.6 198.2 250.1C198.7 250.7 198.9 253.0 198.6 253.7C198.2 254.4 196.6 254.9 196.1 254.3C195.6 253.7 195.4 250.8 195.7 250.1Z" fill="#ff6000"/><path d="M194.0 184.9C195.8 187.7 200.6 196.3 204.4 201.5C208.2 206.7 213.2 211.8 216.8 216.0C220.4 220.1 223.9 224.1 226.1 226.3C228.4 228.6 229.1 229.8 230.3 229.4C231.5 229.1 231.5 225.6 233.4 224.3C235.3 222.9 240.3 221.7 241.7 221.2L245.0 180.0Z" fill="#ffc03c"/><path d="M218.9 184.9C219.2 187.3 219.6 195.8 221.0 199.4C222.3 203.0 225.1 205.6 227.2 206.7C229.2 207.7 231.0 206.2 233.4 205.6C235.8 205.0 240.3 203.6 241.7 203.1L245.0 180.0Z" fill="#ffe878"/><path d="M25.9 274.0C29.7 273.6 41.5 272.6 48.7 271.9C55.9 271.2 63.2 271.5 69.4 269.8C75.6 268.1 81.1 265.0 86.0 261.5C90.8 258.1 94.2 252.4 98.4 249.1C102.5 245.8 107.0 243.2 110.8 241.9C114.6 240.5 117.3 240.5 121.2 240.8C125.0 241.2 130.1 242.6 134.0 243.9C137.9 245.3 140.9 246.9 144.4 249.1C147.8 251.4 150.9 255.0 154.7 257.4C158.5 259.8 162.6 261.5 167.1 263.6C171.6 265.7 176.8 267.4 181.6 269.8C186.4 272.2 191.3 275.3 196.1 278.1C200.9 280.9 206.1 283.6 210.6 286.4C215.1 289.1 219.2 291.6 223.0 294.7C226.8 297.8 230.3 301.9 233.4 305.0C236.5 308.1 240.3 311.9 241.7 313.3L245.0 345.0L20.0 345.0Z" fill="#ffc03c"/><path d="M25.9 283.3C29.7 282.9 41.5 282.1 48.7 281.2C55.9 280.3 63.2 279.6 69.4 278.1C75.6 276.5 80.8 275.3 86.0 271.9C91.1 268.4 95.6 261.2 100.5 257.4C105.3 253.6 110.8 250.7 115.0 249.1C119.1 247.6 122.1 247.7 125.3 248.1C128.5 248.4 131.2 250.0 134.0 251.2C136.8 252.4 139.5 253.2 142.3 255.3C145.0 257.4 147.5 261.2 150.6 263.6C153.7 266.0 156.8 267.4 160.9 269.8C165.1 272.2 170.6 275.3 175.4 278.1C180.2 280.9 185.1 283.3 189.9 286.4C194.7 289.5 199.9 293.6 204.4 296.7C208.9 299.8 213.0 302.6 216.8 305.0C220.6 307.4 223.0 309.1 227.2 311.2C231.3 313.3 239.2 316.4 241.7 317.4L245.0 345.0L20.0 345.0Z" fill="#ffe878"/><path d="M29.5 195.10H237.4M29.5 200.60H237.4M29.5 206.10H237.4M29.5 211.60H237.4M29.5 217.10H237.4M29.5 222.60H237.4M29.5 228.10H237.4M29.5 233.60H237.4M29.5 239.10H237.4M29.5 244.60H237.4M29.5 250.10H237.4M29.5 255.60H237.4M29.5 261.10H237.4M29.5 266.60H237.4M29.5 272.10H237.4M29.5 277.60H237.4M29.5 283.10H237.4M29.5 288.60H237.4M29.5 294.10H237.4M29.5 299.60H237.4M29.5 305.10H237.4M29.5 310.60H237.4M29.5 316.10H237.4M29.5 321.60H237.4M29.5 327.10H237.4M29.5 332.60H237.4" stroke="#fff" stroke-opacity="0.3" stroke-width="0.75" fill="none"/><path d="M25.9 292.6C29.7 292.2 41.5 291.6 48.7 290.5C55.9 289.5 62.9 288.1 69.4 286.4C76.0 284.6 82.9 283.3 88.0 280.2C93.2 277.1 96.0 271.2 100.5 267.7C104.9 264.3 110.8 261.2 115.0 259.5C119.1 257.7 122.1 257.0 125.3 257.4C128.5 257.7 130.8 259.5 134.0 261.5C137.2 263.6 140.9 267.4 144.4 269.8C147.8 272.2 151.3 274.0 154.7 276.0C158.2 278.1 160.9 279.5 165.1 282.2C169.2 285.0 174.4 289.1 179.5 292.6C184.7 296.0 190.9 299.5 196.1 302.9C201.3 306.4 206.1 310.5 210.6 313.3C215.1 316.0 217.8 317.6 223.0 319.5C228.2 321.4 238.6 323.8 241.7 324.7L245.0 345.0L20.0 345.0Z" fill="#e1ffff"/><path d="M25.9 301.9C29.7 301.4 41.5 299.8 48.7 298.8C55.9 297.8 63.2 297.1 69.4 295.7C75.6 294.3 81.1 293.4 86.0 290.5C90.8 287.6 94.2 281.5 98.4 278.1C102.5 274.6 106.7 271.7 110.8 269.8C115.0 267.9 119.4 266.4 123.2 266.7C127.1 267.0 130.5 269.6 134.0 271.5C137.5 273.4 140.9 276.3 144.4 278.1C147.8 279.9 151.6 280.5 154.7 282.2C157.8 284.0 160.6 286.0 163.0 288.4C165.4 290.9 166.1 294.3 169.2 296.7C172.3 299.1 177.1 300.5 181.6 302.9C186.1 305.4 191.6 308.5 196.1 311.2C200.6 314.0 204.4 317.1 208.5 319.5C212.7 321.9 215.4 323.6 221.0 325.7C226.5 327.8 238.2 330.9 241.7 331.9L245.0 345.0L20.0 345.0Z" fill="#96d2fa"/><path d="M25.9 319.5C29.7 318.8 41.5 316.9 48.7 315.4C55.9 313.8 63.2 311.9 69.4 310.2C75.6 308.5 81.5 307.9 86.0 305.0C90.5 302.1 92.5 296.7 96.3 292.6C100.1 288.4 104.6 283.3 108.7 280.2C112.9 277.1 117.0 274.4 121.2 274.0C125.4 273.5 130.1 276.1 134.0 277.7C137.9 279.2 141.2 281.5 144.4 283.3C147.5 285.1 149.9 286.2 152.6 288.4C155.4 290.7 158.5 294.0 160.9 296.7C163.3 299.5 164.0 302.6 167.1 305.0C170.2 307.4 175.1 308.8 179.5 311.2C184.0 313.6 189.9 316.7 194.0 319.5C198.2 322.3 200.6 325.4 204.4 327.8C208.2 330.2 213.0 331.9 216.8 334.0C220.6 336.1 225.4 339.2 227.2 340.2L245.0 345.0L20.0 345.0Z" fill="#78b9fa"/><path d="M69.4 342.3C70.1 341.5 70.8 339.4 73.5 337.7C76.3 336.0 82.2 334.6 86.0 331.9C89.8 329.2 93.9 325.4 96.3 321.6C98.7 317.8 98.0 313.3 100.5 309.1C102.9 305.0 107.4 300.2 110.8 296.7C114.3 293.3 117.3 290.2 121.2 288.4C125.0 286.7 130.1 286.0 134.0 286.4C137.9 286.7 141.6 288.8 144.4 290.5C147.1 292.2 148.8 294.3 150.6 296.7C152.3 299.1 153.0 302.6 154.7 305.0C156.4 307.4 157.8 309.1 160.9 311.2C164.0 313.3 168.9 315.4 173.3 317.4C177.8 319.5 184.0 321.2 187.8 323.6C191.6 326.1 193.9 328.8 196.1 331.9C198.4 335.0 200.4 340.5 201.3 342.3L245.0 345.0L20.0 345.0Z" fill="#50a5f5"/><path d="M109.8 342.3C110.3 339.9 111.3 331.6 112.9 327.8C114.4 324.0 116.7 321.9 119.1 319.5C121.5 317.1 124.9 314.8 127.4 313.3C129.9 311.7 131.5 310.5 134.0 310.2C136.5 309.8 139.9 310.5 142.3 311.2C144.6 311.9 147.0 309.1 148.1 314.3C149.2 319.5 148.8 337.6 148.9 342.3L245.0 345.0L20.0 345.0Z" fill="#3c96f5"/><path d="M29.5 195.10H237.4M29.5 200.60H237.4M29.5 206.10H237.4M29.5 211.60H237.4M29.5 217.10H237.4M29.5 222.60H237.4M29.5 228.10H237.4M29.5 233.60H237.4M29.5 239.10H237.4M29.5 244.60H237.4M29.5 250.10H237.4M29.5 255.60H237.4M29.5 261.10H237.4M29.5 266.60H237.4M29.5 272.10H237.4M29.5 277.60H237.4M29.5 283.10H237.4M29.5 288.60H237.4M29.5 294.10H237.4M29.5 299.60H237.4M29.5 305.10H237.4M29.5 310.60H237.4M29.5 316.10H237.4M29.5 321.60H237.4M29.5 327.10H237.4M29.5 332.60H237.4" stroke="#fff" stroke-opacity="0.1" stroke-width="0.75" fill="none"/></g><rect x="29.5" y="189.6" width="207.9" height="148.5" fill="none" stroke="#000" stroke-width="1.1"/><text x="34.2" y="186.9" font-size="11" letter-spacing="0.9">(c)</text><path d="M29.5 189.6h-3.2" stroke="#777" stroke-width="0.8"/><text x="13.0" y="193.7" font-size="10.9" textLength="13.0" lengthAdjust="spacingAndGlyphs">60</text><path d="M29.5 226.7h-3.2" stroke="#777" stroke-width="0.8"/><text x="13.0" y="230.8" font-size="10.9" textLength="13.0" lengthAdjust="spacingAndGlyphs">50</text><path d="M29.5 263.9h-3.2" stroke="#777" stroke-width="0.8"/><text x="13.0" y="268.0" font-size="10.9" textLength="13.0" lengthAdjust="spacingAndGlyphs">40</text><path d="M29.5 301.0h-3.2" stroke="#777" stroke-width="0.8"/><text x="13.0" y="305.1" font-size="10.9" textLength="13.0" lengthAdjust="spacingAndGlyphs">30</text><path d="M29.5 338.1h-3.2" stroke="#777" stroke-width="0.8"/><text x="13.0" y="342.2" font-size="10.9" textLength="13.0" lengthAdjust="spacingAndGlyphs">20</text><path d="M60.5 338.1v2.5" stroke="#555" stroke-width="0.8"/><path d="M97.2 338.1v2.5" stroke="#555" stroke-width="0.8"/><path d="M133.9 338.1v2.5" stroke="#555" stroke-width="0.8"/><path d="M170.6 338.1v2.5" stroke="#555" stroke-width="0.8"/><path d="M207.3 338.1v2.5" stroke="#555" stroke-width="0.8"/><g clip-path="url(#cd)"><rect x="243.6" y="189.6" width="207.8" height="148.5" fill="#ffa000"/><path d="M303.1 184.9C304.1 186.7 305.9 193.2 309.3 195.3C312.8 197.4 317.5 196.9 323.8 197.4C330.1 197.8 339.7 197.7 347.0 197.8C354.3 197.8 360.8 198.0 367.7 197.8C374.6 197.5 381.5 196.8 388.4 196.3C395.3 195.8 402.2 195.6 409.1 194.9C416.0 194.2 425.7 193.8 429.8 192.2C434.0 190.5 433.3 186.1 434.0 184.9Z" fill="#ffc03c"/><path d="M293.8 232.5C293.8 229.3 295.0 225.5 296.9 222.2C298.8 218.9 301.7 215.1 305.2 212.9C308.6 210.6 313.5 209.1 317.6 208.7C321.7 208.4 326.2 210.8 330.0 210.8C333.8 210.8 337.5 208.7 340.4 208.7C343.2 208.7 344.9 210.8 347.0 210.8C349.1 210.8 351.3 208.9 353.2 208.7C355.1 208.6 357.4 208.6 358.4 209.8C359.4 211.0 359.9 213.2 359.4 216.0C358.9 218.7 356.7 223.2 355.3 226.3C353.9 229.4 352.5 232.5 351.1 234.6C349.8 236.7 350.2 236.7 347.0 238.8C343.8 240.8 336.6 245.3 332.1 247.0C327.5 248.8 323.8 249.3 319.7 249.1C315.5 248.9 311.0 247.2 307.2 246.0C303.5 244.8 299.1 244.1 296.9 241.9C294.7 239.6 293.8 235.8 293.8 232.5Z" fill="#ff6000"/><path d="M363.1 211.8C363.6 211.1 365.3 210.3 366.0 210.8C366.8 211.3 367.8 213.8 367.7 214.9C367.6 216.1 366.0 217.5 365.2 217.6C364.5 217.7 363.5 216.5 363.1 215.6C362.8 214.6 362.7 212.6 363.1 211.8Z" fill="#ff6000"/><path d="M429.8 184.9C428.1 186.7 424.3 192.9 419.5 195.3C414.6 197.7 406.0 198.0 400.8 199.4C395.7 200.8 390.8 200.8 388.4 203.6C386.0 206.3 386.3 211.8 386.3 216.0C386.3 220.1 387.0 223.9 388.4 228.4C389.8 232.9 391.9 238.4 394.6 242.9C397.4 247.4 400.8 251.9 405.0 255.3C409.1 258.8 415.3 262.6 419.5 263.6C423.6 264.6 426.4 262.4 429.8 261.5C433.3 260.7 435.7 259.2 440.2 258.4C444.6 257.7 454.0 257.2 456.7 257.0L460.0 180.0Z" fill="#ff6000"/><path d="M456.7 198.4C453.6 199.2 443.6 201.3 438.1 203.1C432.6 205.0 428.1 207.3 423.6 209.8C419.1 212.3 414.3 214.9 411.2 218.1C408.1 221.2 405.7 225.0 405.0 228.4C404.3 231.9 405.3 235.7 407.0 238.8C408.8 241.9 412.2 245.3 415.3 247.0C418.4 248.8 421.9 249.3 425.7 249.1C429.5 248.9 432.9 247.0 438.1 246.0C443.3 245.0 453.6 243.8 456.7 243.3Z" fill="#ff3200"/><path d="M305.2 184.9C303.5 187.7 297.6 196.7 294.8 201.5C292.1 206.3 291.4 210.5 288.6 213.9C285.9 217.4 282.1 219.8 278.3 222.2C274.5 224.6 269.6 225.6 265.8 228.4C262.0 231.2 260.0 235.5 255.5 238.8C251.0 242.0 241.7 246.5 238.9 248.1L235.0 180.0Z" fill="#ffc03c"/><path d="M288.6 184.9C287.6 187.5 284.5 196.7 282.4 200.5C280.3 204.3 279.0 205.6 276.2 207.7C273.4 209.8 269.1 210.8 265.8 212.9C262.6 214.9 259.1 217.5 256.5 220.1C253.9 222.7 253.2 225.7 250.3 228.4C247.4 231.1 240.8 235.0 238.9 236.3L235.0 180.0Z" fill="#ffe878"/><path d="M244.7 184.9C245.0 187.3 245.8 195.6 246.2 199.4C246.6 203.2 246.3 206.0 247.2 207.7C248.1 209.4 250.0 210.5 251.4 209.8C252.7 209.1 254.6 206.0 255.5 203.6C256.4 201.1 256.7 198.4 256.7 195.3C256.7 192.2 255.7 186.7 255.5 184.9Z" fill="#e1ffff"/><path d="M242.7 305.4C243.1 304.8 244.7 305.5 245.1 306.0C245.6 306.6 246.0 308.1 245.6 308.7C245.1 309.3 243.1 310.1 242.7 309.6C242.2 309.0 242.2 306.0 242.7 305.4Z" fill="#ff6000"/><path d="M238.9 320.5C241.3 320.4 249.3 320.4 253.4 319.5C257.6 318.6 261.4 317.4 263.8 315.4C266.2 313.3 267.2 310.5 267.9 307.1C268.6 303.6 267.6 299.1 267.9 294.7C268.3 290.2 268.3 283.6 270.0 280.2C271.7 276.7 274.8 275.7 278.3 274.0C281.7 272.2 286.5 271.0 290.7 269.8C294.8 268.6 298.3 267.6 303.1 266.7C307.9 265.8 314.5 265.5 319.7 264.6C324.8 263.8 329.6 263.6 334.2 261.5C338.7 259.5 343.5 255.1 347.0 252.2C350.5 249.3 352.5 246.1 355.3 243.9C358.0 241.8 360.5 240.0 363.6 239.2C366.7 238.3 370.8 237.8 373.9 238.8C377.0 239.7 379.8 242.2 382.2 245.0C384.6 247.7 385.6 251.9 388.4 255.3C391.2 258.8 394.3 262.9 398.8 265.7C403.2 268.4 409.5 270.5 415.3 271.9C421.2 273.3 427.1 274.0 434.0 274.0C440.9 273.9 452.9 271.9 456.7 271.5L460.0 345.0L235.0 345.0Z" fill="#ffc03c"/><path d="M238.9 323.6C241.3 323.5 249.3 323.1 253.4 322.6C257.6 322.1 260.7 322.1 263.8 320.5C266.9 319.0 270.0 316.2 272.1 313.3C274.1 310.4 274.5 306.7 276.2 302.9C277.9 299.1 280.0 294.0 282.4 290.5C284.8 287.1 287.6 284.6 290.7 282.2C293.8 279.8 297.2 277.5 301.0 276.0C304.8 274.6 308.3 274.6 313.5 273.5C318.6 272.5 326.5 271.5 332.1 269.8C337.7 268.2 342.8 265.6 347.0 263.6C351.2 261.6 353.9 259.4 357.4 257.8C360.8 256.3 364.6 254.5 367.7 254.3C370.8 254.0 373.2 254.5 376.0 256.4C378.7 258.3 381.5 262.4 384.3 265.7C387.0 268.9 389.1 272.9 392.5 276.0C396.0 279.1 400.1 282.2 405.0 284.3C409.8 286.4 416.0 287.6 421.5 288.4C427.1 289.3 432.2 289.5 438.1 289.5C444.0 289.5 453.6 288.6 456.7 288.4L460.0 345.0L235.0 345.0Z" fill="#ffe878"/><path d="M243.6 195.10H451.4M243.6 200.60H451.4M243.6 206.10H451.4M243.6 211.60H451.4M243.6 217.10H451.4M243.6 222.60H451.4M243.6 228.10H451.4M243.6 233.60H451.4M243.6 239.10H451.4M243.6 244.60H451.4M243.6 250.10H451.4M243.6 255.60H451.4M243.6 261.10H451.4M243.6 266.60H451.4M243.6 272.10H451.4M243.6 277.60H451.4M243.6 283.10H451.4M243.6 288.60H451.4M243.6 294.10H451.4M243.6 299.60H451.4M243.6 305.10H451.4M243.6 310.60H451.4M243.6 316.10H451.4M243.6 321.60H451.4M243.6 327.10H451.4M243.6 332.60H451.4" stroke="#fff" stroke-opacity="0.3" stroke-width="0.75" fill="none"/><path d="M238.9 326.7C242.7 326.2 256.2 324.8 261.7 323.6C267.2 322.4 268.9 321.9 272.1 319.5C275.2 317.1 277.9 312.6 280.3 309.1C282.8 305.7 284.5 301.9 286.5 298.8C288.6 295.7 290.3 293.1 292.8 290.5C295.2 287.9 297.6 285.0 301.0 283.3C304.5 281.5 308.3 281.3 313.5 280.2C318.6 279.0 326.5 277.8 332.1 276.4C337.7 275.1 343.1 273.1 347.0 271.9C350.9 270.6 352.5 269.7 355.3 269.0C358.0 268.3 360.8 267.4 363.6 267.7C366.3 268.1 369.1 269.1 371.8 270.8C374.6 272.6 377.7 275.2 380.1 278.1C382.5 281.0 383.6 285.3 386.3 288.4C389.1 291.6 392.2 294.7 396.7 296.7C401.2 298.8 407.7 300.0 413.2 300.9C418.8 301.7 422.6 301.7 429.8 301.9C437.1 302.1 452.2 301.9 456.7 301.9L460.0 345.0L235.0 345.0Z" fill="#e1ffff"/><path d="M238.9 329.9C242.0 329.7 252.4 329.5 257.6 328.8C262.7 328.1 266.2 327.6 270.0 325.7C273.8 323.8 277.2 320.5 280.3 317.4C283.4 314.3 285.9 310.5 288.6 307.1C291.4 303.6 294.1 299.5 296.9 296.7C299.7 294.0 301.4 292.2 305.2 290.5C309.0 288.8 314.8 287.7 319.7 286.4C324.5 285.1 329.6 283.6 334.2 282.6C338.7 281.7 343.1 281.2 347.0 280.6C350.9 280.0 353.9 279.2 357.4 279.1C360.8 279.1 364.6 279.3 367.7 280.2C370.8 281.0 373.6 282.2 376.0 284.3C378.4 286.4 379.4 289.5 382.2 292.6C385.0 295.7 388.4 300.2 392.5 302.9C396.7 305.7 401.9 307.8 407.0 309.1C412.2 310.5 418.1 310.7 423.6 311.2C429.1 311.7 434.6 311.8 440.2 312.3C445.7 312.7 454.0 313.5 456.7 313.7L460.0 345.0L235.0 345.0Z" fill="#96d2fa"/><path d="M238.9 334.0C243.4 333.6 258.9 333.3 265.8 331.9C272.7 330.5 276.2 328.5 280.3 325.7C284.5 323.0 287.6 318.5 290.7 315.4C293.8 312.3 295.9 309.7 299.0 307.1C302.1 304.5 305.5 301.9 309.3 299.8C313.1 297.8 317.6 296.2 321.7 294.7C325.9 293.1 330.0 291.3 334.2 290.5C338.4 289.7 343.1 290.0 347.0 289.7C350.9 289.3 353.9 288.5 357.4 288.4C360.8 288.4 364.3 288.1 367.7 289.5C371.2 290.9 374.9 294.1 378.1 296.7C381.2 299.3 382.9 302.2 386.3 305.0C389.8 307.8 393.9 310.9 398.8 313.3C403.6 315.7 409.5 317.9 415.3 319.5C421.2 321.1 427.1 321.6 434.0 322.6C440.9 323.6 452.9 324.8 456.7 325.3L460.0 345.0L235.0 345.0Z" fill="#78b9fa"/><path d="M267.9 342.3C269.6 341.2 274.1 338.5 278.3 336.1C282.4 333.6 288.6 330.5 292.8 327.8C296.9 325.0 299.7 322.3 303.1 319.5C306.6 316.7 310.0 313.5 313.5 311.2C316.9 309.0 320.4 307.6 323.8 306.0C327.3 304.5 330.3 303.0 334.2 301.9C338.0 300.8 342.8 299.8 347.0 299.4C351.2 299.1 355.3 298.9 359.4 299.8C363.6 300.8 368.0 302.8 371.8 305.0C375.6 307.3 379.1 310.5 382.2 313.3C385.3 316.0 388.7 318.5 390.5 321.6C392.3 324.7 391.9 330.0 393.0 331.9C394.0 333.9 393.3 333.2 396.7 333.2C400.1 333.2 407.7 331.7 413.2 331.9C418.8 332.1 426.4 332.7 429.8 334.4C433.3 336.1 433.3 341.0 434.0 342.3L460.0 345.0L235.0 345.0Z" fill="#50a5f5"/><path d="M328.0 315.4C328.6 313.3 333.1 310.4 336.2 309.1C339.4 307.9 343.8 307.8 347.0 308.1C350.2 308.5 354.2 309.3 355.3 311.2C356.3 313.1 354.6 317.7 353.2 319.5C351.8 321.3 350.5 321.6 347.0 322.0C343.5 322.3 335.3 322.7 332.1 321.6C328.9 320.5 327.3 317.4 328.0 315.4Z" fill="#3c96f5"/><path d="M243.6 195.10H451.4M243.6 200.60H451.4M243.6 206.10H451.4M243.6 211.60H451.4M243.6 217.10H451.4M243.6 222.60H451.4M243.6 228.10H451.4M243.6 233.60H451.4M243.6 239.10H451.4M243.6 244.60H451.4M243.6 250.10H451.4M243.6 255.60H451.4M243.6 261.10H451.4M243.6 266.60H451.4M243.6 272.10H451.4M243.6 277.60H451.4M243.6 283.10H451.4M243.6 288.60H451.4M243.6 294.10H451.4M243.6 299.60H451.4M243.6 305.10H451.4M243.6 310.60H451.4M243.6 316.10H451.4M243.6 321.60H451.4M243.6 327.10H451.4M243.6 332.60H451.4" stroke="#fff" stroke-opacity="0.1" stroke-width="0.75" fill="none"/></g><rect x="243.6" y="189.6" width="207.8" height="148.5" fill="none" stroke="#000" stroke-width="1.1"/><text x="248.3" y="186.9" font-size="11" letter-spacing="0.9">(d)</text><path d="M243.6 189.6h-2" stroke="#999" stroke-width="0.8"/><path d="M243.6 226.7h-2" stroke="#999" stroke-width="0.8"/><path d="M243.6 263.9h-2" stroke="#999" stroke-width="0.8"/><path d="M243.6 301.0h-2" stroke="#999" stroke-width="0.8"/><path d="M243.6 338.1h-2" stroke="#999" stroke-width="0.8"/><path d="M274.6 338.1v2.5" stroke="#555" stroke-width="0.8"/><path d="M311.3 338.1v2.5" stroke="#555" stroke-width="0.8"/><path d="M348.0 338.1v2.5" stroke="#555" stroke-width="0.8"/><path d="M384.7 338.1v2.5" stroke="#555" stroke-width="0.8"/><path d="M421.4 338.1v2.5" stroke="#555" stroke-width="0.8"/><g clip-path="url(#ce)"><rect x="29.5" y="356.7" width="207.9" height="148.4" fill="#ffc03c"/><path d="M110.8 351.9C111.5 353.1 113.2 357.5 115.0 359.2C116.7 360.9 118.0 361.6 121.2 362.3C124.3 363.0 129.8 363.0 134.0 363.3C138.2 363.7 141.9 363.5 146.4 364.4C150.9 365.2 156.4 366.4 160.9 368.5C165.4 370.6 169.5 373.7 173.3 376.8C177.1 379.9 180.9 384.0 183.7 387.1C186.4 390.2 189.0 392.6 189.9 395.4C190.8 398.2 190.2 402.0 188.9 403.7C187.5 405.4 184.9 405.8 181.6 405.8C178.3 405.8 173.7 403.9 169.2 403.7C164.7 403.5 158.8 405.1 154.7 404.7C150.6 404.4 147.8 402.7 144.4 401.6C140.9 400.6 137.2 399.2 134.0 398.5C130.8 397.8 128.5 398.2 125.3 397.5C122.1 396.8 118.4 394.5 115.0 394.4C111.5 394.2 108.1 394.5 104.6 396.4C101.2 398.3 97.7 402.5 94.2 405.8C90.8 409.0 88.0 412.7 83.9 416.1C79.8 419.6 75.3 423.9 69.4 426.5C63.5 429.0 55.9 430.4 48.7 431.6C41.5 432.8 29.7 433.4 25.9 433.7L20.0 350.0Z" fill="#ffa000"/><path d="M25.9 362.3C29.7 362.1 42.5 361.2 48.7 361.2C54.9 361.2 58.7 361.1 63.2 362.3C67.7 363.5 71.5 366.4 75.6 368.5C79.8 370.6 84.8 371.9 88.0 374.7C91.3 377.5 94.9 381.3 95.3 385.1C95.6 388.9 92.0 393.7 90.1 397.5C88.2 401.3 86.3 404.4 83.9 407.8C81.5 411.3 79.8 415.6 75.6 418.2C71.5 420.8 64.9 422.1 59.1 423.4C53.2 424.6 45.9 424.9 40.4 425.4C34.9 425.9 28.3 426.3 25.9 426.5Z" fill="#ff6000"/><path d="M25.9 369.5C28.3 370.0 35.9 370.9 40.4 372.6C44.9 374.4 48.7 377.8 52.8 379.9C57.0 381.9 62.0 382.8 65.3 385.1C68.5 387.3 71.8 389.9 72.5 393.3C73.2 396.8 71.6 402.5 69.4 405.8C67.2 409.0 63.2 412.0 59.1 413.0C54.9 414.0 48.4 412.6 44.6 412.0C40.8 411.4 39.4 409.3 36.3 409.5C33.2 409.7 27.7 412.4 25.9 413.0Z" fill="#ff3200"/><path d="M151.6 385.1C152.0 383.7 153.6 382.6 154.7 381.9C155.8 381.3 157.7 380.1 158.4 380.9C159.1 381.8 159.5 385.4 158.8 387.1C158.2 388.9 155.8 390.7 154.7 391.3C153.6 391.8 152.7 391.3 152.2 390.2C151.7 389.2 151.2 386.4 151.6 385.1Z" fill="#ff6000"/><path d="M181.6 351.9C183.0 354.3 186.8 361.9 189.9 366.4C193.0 370.9 196.8 374.7 200.2 378.8C203.7 383.0 207.2 387.8 210.6 391.3C214.1 394.7 217.5 397.1 221.0 399.5C224.4 402.0 227.9 404.3 231.3 405.8C234.8 407.2 239.9 407.8 241.7 408.2L245.0 340.0Z" fill="#ffe878"/><path d="M200.2 351.9C202.0 354.3 207.2 362.5 210.6 366.4C214.1 370.4 217.8 373.2 221.0 375.7C224.1 378.3 225.8 380.5 229.2 381.9C232.7 383.4 239.6 384.0 241.7 384.4L245.0 340.0Z" fill="#e1ffff"/><path d="M25.9 448.2C29.0 447.7 38.7 446.1 44.6 445.1C50.4 444.1 55.6 443.4 61.1 442.0C66.6 440.6 72.9 439.7 77.7 436.8C82.5 433.9 86.3 428.2 90.1 424.4C93.9 420.6 97.0 417.1 100.5 414.0C103.9 410.9 107.4 407.5 110.8 405.8C114.3 404.0 117.3 403.2 121.2 403.7C125.0 404.2 130.5 407.1 134.0 408.9C137.5 410.6 139.5 411.5 142.3 414.0C145.0 416.6 147.5 420.9 150.6 424.4C153.7 427.8 156.8 431.6 160.9 434.7C165.1 437.8 170.6 440.3 175.4 443.0C180.2 445.8 185.4 448.5 189.9 451.3C194.4 454.1 198.9 456.5 202.3 459.6C205.8 462.7 207.5 466.5 210.6 469.9C213.7 473.4 217.5 477.5 221.0 480.3C224.4 483.0 227.9 484.8 231.3 486.5C234.8 488.2 239.9 490.0 241.7 490.6L245.0 512.0L20.0 512.0Z" fill="#ffe878"/><path d="M29.5 362.20H237.4M29.5 367.69H237.4M29.5 373.19H237.4M29.5 378.69H237.4M29.5 384.18H237.4M29.5 389.68H237.4M29.5 395.17H237.4M29.5 400.67H237.4M29.5 406.17H237.4M29.5 411.66H237.4M29.5 417.16H237.4M29.5 422.66H237.4M29.5 428.15H237.4M29.5 433.65H237.4M29.5 439.14H237.4M29.5 444.64H237.4M29.5 450.14H237.4M29.5 455.63H237.4M29.5 461.13H237.4M29.5 466.63H237.4M29.5 472.12H237.4M29.5 477.62H237.4M29.5 483.11H237.4M29.5 488.61H237.4M29.5 494.11H237.4M29.5 499.60H237.4" stroke="#fff" stroke-opacity="0.3" stroke-width="0.75" fill="none"/><path d="M25.9 463.7C28.3 463.4 35.9 462.7 40.4 461.7C44.9 460.6 48.0 459.2 52.8 457.5C57.7 455.8 64.2 453.7 69.4 451.3C74.6 448.9 79.8 445.8 83.9 443.0C88.0 440.3 90.5 437.5 94.2 434.7C98.0 432.0 102.5 428.4 106.7 426.5C110.8 424.6 115.6 423.5 119.1 423.4C122.5 423.2 124.9 424.6 127.4 425.4C129.9 426.3 131.9 427.7 134.0 428.5C136.1 429.4 137.8 429.2 140.2 430.6C142.6 432.0 145.7 434.4 148.5 436.8C151.3 439.2 153.3 442.3 156.8 445.1C160.2 447.9 165.1 450.6 169.2 453.4C173.3 456.1 177.8 458.9 181.6 461.7C185.4 464.4 189.2 467.2 192.0 469.9C194.7 472.7 196.1 475.1 198.2 478.2C200.2 481.3 201.6 485.1 204.4 488.6C207.2 492.0 211.8 495.5 214.7 498.9C217.7 502.4 220.8 507.5 222.0 509.3L245.0 512.0L20.0 512.0Z" fill="#e1ffff"/><path d="M65.3 509.3C65.6 507.5 65.6 501.0 67.3 498.9C69.1 496.9 73.2 498.2 75.6 496.9C78.0 495.5 78.7 493.1 81.8 490.6C84.9 488.2 91.8 485.5 94.2 482.4C96.7 479.3 96.5 475.1 96.3 472.0C96.1 468.9 92.9 466.8 93.2 463.7C93.6 460.6 95.5 456.8 98.4 453.4C101.3 449.9 107.0 445.4 110.8 443.0C114.6 440.6 117.3 439.2 121.2 438.9C125.0 438.5 130.5 440.3 134.0 441.0C137.5 441.6 139.5 442.0 142.3 443.0C145.0 444.1 147.8 445.1 150.6 447.2C153.3 449.2 156.8 452.3 158.8 455.4C160.9 458.6 161.9 462.3 163.0 465.8C164.0 469.2 163.7 473.4 165.1 476.1C166.4 478.9 168.5 480.3 171.3 482.4C174.0 484.4 178.9 486.2 181.6 488.6C184.4 491.0 186.7 493.4 187.8 496.9C188.9 500.3 188.2 507.2 188.2 509.3L245.0 512.0L20.0 512.0Z" fill="#96d2fa"/><path d="M100.5 509.3C101.2 507.2 102.9 500.6 104.6 496.9C106.3 493.1 108.4 489.6 110.8 486.5C113.2 483.4 117.4 481.0 119.1 478.2C120.8 475.5 121.2 472.7 121.2 469.9C121.2 467.2 118.4 464.1 119.1 461.7C119.8 459.2 122.8 456.8 125.3 455.4C127.8 454.1 131.5 453.0 134.0 453.4C136.5 453.7 138.8 455.4 140.2 457.5C141.6 459.6 141.2 462.7 142.3 465.8C143.3 468.9 145.0 472.7 146.4 476.1C147.8 479.6 150.2 483.0 150.6 486.5C150.9 490.0 148.5 493.1 148.5 496.9C148.5 500.6 150.2 507.2 150.6 509.3L245.0 512.0L20.0 512.0Z" fill="#78b9fa"/><path d="M123.2 509.3C123.6 506.9 124.3 497.9 125.3 494.8C126.3 491.7 128.0 491.7 129.4 490.6C130.9 489.6 132.2 488.6 134.0 488.6C135.8 488.6 138.5 489.3 140.2 490.6C141.9 492.0 143.6 493.7 144.4 496.9C145.1 500.0 144.7 507.2 144.8 509.3L245.0 512.0L20.0 512.0Z" fill="#50a5f5"/><rect x="100.7" y="501.7" width="58.6" height="3" fill="#fff"/><path d="M29.5 362.20H237.4M29.5 367.69H237.4M29.5 373.19H237.4M29.5 378.69H237.4M29.5 384.18H237.4M29.5 389.68H237.4M29.5 395.17H237.4M29.5 400.67H237.4M29.5 406.17H237.4M29.5 411.66H237.4M29.5 417.16H237.4M29.5 422.66H237.4M29.5 428.15H237.4M29.5 433.65H237.4M29.5 439.14H237.4M29.5 444.64H237.4M29.5 450.14H237.4M29.5 455.63H237.4M29.5 461.13H237.4M29.5 466.63H237.4M29.5 472.12H237.4M29.5 477.62H237.4M29.5 483.11H237.4M29.5 488.61H237.4M29.5 494.11H237.4M29.5 499.60H237.4" stroke="#fff" stroke-opacity="0.1" stroke-width="0.75" fill="none"/></g><rect x="29.5" y="356.7" width="207.9" height="148.4" fill="none" stroke="#000" stroke-width="1.1"/><text x="34.2" y="354.0" font-size="11" letter-spacing="0.9">(e)</text><path d="M29.5 356.7h-3.2" stroke="#777" stroke-width="0.8"/><text x="13.0" y="360.8" font-size="10.9" textLength="13.0" lengthAdjust="spacingAndGlyphs">60</text><path d="M29.5 393.8h-3.2" stroke="#777" stroke-width="0.8"/><text x="13.0" y="397.9" font-size="10.9" textLength="13.0" lengthAdjust="spacingAndGlyphs">50</text><path d="M29.5 430.9h-3.2" stroke="#777" stroke-width="0.8"/><text x="13.0" y="435.0" font-size="10.9" textLength="13.0" lengthAdjust="spacingAndGlyphs">40</text><path d="M29.5 468.0h-3.2" stroke="#777" stroke-width="0.8"/><text x="13.0" y="472.1" font-size="10.9" textLength="13.0" lengthAdjust="spacingAndGlyphs">30</text><path d="M29.5 505.1h-3.2" stroke="#777" stroke-width="0.8"/><text x="13.0" y="509.2" font-size="10.9" textLength="13.0" lengthAdjust="spacingAndGlyphs">20</text><path d="M60.5 505.1v2.5" stroke="#555" stroke-width="0.8"/><text x="52.7" y="517.2" font-size="9.6" textLength="15.6" lengthAdjust="spacingAndGlyphs">60S</text><path d="M97.2 505.1v2.5" stroke="#555" stroke-width="0.8"/><text x="89.4" y="517.2" font-size="9.6" textLength="15.6" lengthAdjust="spacingAndGlyphs">30S</text><path d="M133.9 505.1v2.5" stroke="#555" stroke-width="0.8"/><text x="128.2" y="517.2" font-size="9.6" textLength="11.5" lengthAdjust="spacingAndGlyphs">EQ</text><path d="M170.6 505.1v2.5" stroke="#555" stroke-width="0.8"/><text x="162.8" y="517.2" font-size="9.6" textLength="15.6" lengthAdjust="spacingAndGlyphs">30N</text><path d="M207.3 505.1v2.5" stroke="#555" stroke-width="0.8"/><text x="199.5" y="517.2" font-size="9.6" textLength="15.6" lengthAdjust="spacingAndGlyphs">60N</text><g clip-path="url(#cf)"><rect x="243.6" y="356.7" width="207.8" height="148.4" fill="#ffc03c"/><path d="M313.5 351.9C312.1 354.0 307.6 360.2 305.2 364.4C302.8 368.5 300.7 372.3 299.0 376.8C297.2 381.3 295.9 386.4 294.8 391.3C293.8 396.1 292.1 401.6 292.8 405.8C293.4 409.9 295.9 413.2 299.0 416.1C302.1 419.0 306.9 422.0 311.4 423.4C315.9 424.7 321.4 424.9 325.9 424.4C330.4 423.9 334.8 422.3 338.3 420.2C341.8 418.2 343.8 415.3 347.0 412.4C350.2 409.4 353.9 405.3 357.4 402.7C360.8 400.0 364.3 397.6 367.7 396.4C371.2 395.2 374.9 394.5 378.1 395.4C381.2 396.3 383.9 398.5 386.3 401.6C388.8 404.7 390.5 409.9 392.5 414.0C394.6 418.2 396.0 422.7 398.8 426.5C401.5 430.3 405.0 433.9 409.1 436.8C413.2 439.7 418.8 442.9 423.6 444.1C428.4 445.3 432.6 444.4 438.1 444.1C443.6 443.7 453.6 442.3 456.7 442.0L460.0 350.0Z" fill="#ffa000"/><path d="M328.0 351.9C329.7 353.7 335.1 360.4 338.3 362.3C341.5 364.2 342.1 363.3 347.0 363.3C351.9 363.3 360.8 362.3 367.7 362.3C374.6 362.3 381.5 363.5 388.4 363.3C395.3 363.1 402.2 361.9 409.1 361.2C416.0 360.6 424.8 360.7 429.8 359.2C434.8 357.6 437.6 353.1 439.1 351.9Z" fill="#ffc03c"/><path d="M307.2 395.4C306.4 392.0 306.9 385.1 308.3 380.9C309.7 376.8 312.3 373.0 315.5 370.6C318.8 368.1 323.8 367.8 328.0 366.4C332.1 365.0 337.2 363.0 340.4 362.3C343.5 361.6 345.2 360.9 347.0 362.3C348.8 363.7 349.8 367.5 351.1 370.6C352.5 373.7 354.8 377.5 355.3 380.9C355.8 384.4 355.6 388.7 354.2 391.3C352.9 393.9 349.7 395.2 347.0 396.4C344.3 397.6 341.5 397.5 338.3 398.5C335.1 399.5 332.1 402.1 328.0 402.7C323.8 403.2 316.9 402.8 313.5 401.6C310.0 400.4 308.1 398.9 307.2 395.4Z" fill="#ff6000"/><path d="M456.7 359.2C453.6 359.9 443.6 361.8 438.1 363.3C432.6 364.9 428.4 367.5 423.6 368.5C418.8 369.5 413.9 369.2 409.1 369.5C404.3 369.9 398.1 369.7 394.6 370.6C391.2 371.4 388.9 372.6 388.4 374.7C387.9 376.8 391.3 380.2 391.5 383.0C391.7 385.7 388.9 388.2 389.4 391.3C390.0 394.4 392.7 397.8 394.6 401.6C396.5 405.4 398.4 410.2 400.8 414.0C403.2 417.8 405.7 421.5 409.1 424.4C412.6 427.3 417.0 430.3 421.5 431.6C426.0 433.0 430.2 433.7 436.0 432.7C441.9 431.6 453.3 426.6 456.7 425.4Z" fill="#ff6000"/><path d="M456.7 372.6C453.6 373.3 442.9 375.0 438.1 376.8C433.3 378.5 431.5 381.6 427.7 383.0C423.9 384.4 418.8 383.7 415.3 385.1C411.9 386.4 408.6 388.9 407.0 391.3C405.5 393.7 405.3 396.4 406.0 399.5C406.7 402.7 408.9 406.8 411.2 409.9C413.4 413.0 416.4 416.1 419.5 418.2C422.6 420.2 426.4 422.3 429.8 422.3C433.3 422.3 435.7 419.7 440.2 418.2C444.6 416.6 454.0 413.9 456.7 413.0Z" fill="#ff3200"/><path d="M290.7 351.9C290.5 354.3 290.7 362.3 289.7 366.4C288.6 370.6 286.7 373.3 284.5 376.8C282.2 380.2 279.0 383.7 276.2 387.1C273.4 390.6 270.3 394.0 267.9 397.5C265.5 400.9 264.1 404.7 261.7 407.8C259.3 410.9 257.2 413.9 253.4 416.1C249.6 418.4 241.3 420.4 238.9 421.3L235.0 345.0Z" fill="#ffe878"/><path d="M276.2 351.9C275.5 353.7 273.4 359.2 272.1 362.3C270.7 365.4 270.0 368.1 267.9 370.6C265.8 373.0 262.4 374.7 259.6 376.8C256.9 378.8 254.8 381.1 251.4 383.0C247.9 384.9 241.0 387.3 238.9 388.2L235.0 345.0Z" fill="#e1ffff"/><path d="M258.6 351.9C257.4 353.5 254.6 359.2 251.4 361.2C248.1 363.2 241.0 363.5 238.9 363.9L235.0 345.0Z" fill="#96d2fa"/><path d="M238.9 461.7C241.3 461.5 248.9 460.8 253.4 460.6C257.9 460.4 263.9 458.7 265.8 460.6C267.7 462.5 265.8 468.7 264.8 472.0C263.8 475.3 261.9 478.4 259.6 480.3C257.4 482.2 254.8 482.7 251.4 483.4C247.9 484.1 241.0 484.3 238.9 484.4Z" fill="#ffa000"/><path d="M238.9 473.0C240.7 473.1 247.0 473.1 249.3 473.7C251.5 474.3 252.6 475.6 252.4 476.6C252.2 477.5 250.5 478.7 248.2 479.3C246.0 479.8 240.5 479.8 238.9 479.9Z" fill="#ff6000"/><path d="M238.9 488.6C242.0 488.2 252.4 487.9 257.6 486.5C262.7 485.1 266.9 482.7 270.0 480.3C273.1 477.9 274.5 475.5 276.2 472.0C277.9 468.6 278.6 463.0 280.3 459.6C282.1 456.1 283.4 454.1 286.5 451.3C289.7 448.5 294.5 444.9 299.0 443.0C303.5 441.1 308.3 440.8 313.5 439.9C318.6 439.1 324.4 438.9 330.0 437.8C335.6 436.8 343.1 435.6 347.0 433.7C350.9 431.8 350.8 428.5 353.2 426.5C355.6 424.4 358.0 421.8 361.5 421.3C364.9 420.8 370.5 421.8 373.9 423.4C377.4 424.9 380.0 427.3 382.2 430.6C384.4 433.9 385.3 439.2 387.4 443.0C389.4 446.8 391.3 450.6 394.6 453.4C397.9 456.1 402.2 458.0 407.0 459.6C411.9 461.1 418.1 462.2 423.6 462.7C429.1 463.2 434.6 462.9 440.2 462.7C445.7 462.5 454.0 461.8 456.7 461.7L460.0 512.0L235.0 512.0Z" fill="#ffe878"/><path d="M243.6 362.20H451.4M243.6 367.69H451.4M243.6 373.19H451.4M243.6 378.69H451.4M243.6 384.18H451.4M243.6 389.68H451.4M243.6 395.17H451.4M243.6 400.67H451.4M243.6 406.17H451.4M243.6 411.66H451.4M243.6 417.16H451.4M243.6 422.66H451.4M243.6 428.15H451.4M243.6 433.65H451.4M243.6 439.14H451.4M243.6 444.64H451.4M243.6 450.14H451.4M243.6 455.63H451.4M243.6 461.13H451.4M243.6 466.63H451.4M243.6 472.12H451.4M243.6 477.62H451.4M243.6 483.11H451.4M243.6 488.61H451.4M243.6 494.11H451.4M243.6 499.60H451.4" stroke="#fff" stroke-opacity="0.3" stroke-width="0.75" fill="none"/><path d="M238.9 492.7C242.7 492.4 255.8 492.0 261.7 490.6C267.6 489.3 270.7 487.2 274.1 484.4C277.6 481.7 280.0 477.9 282.4 474.1C284.8 470.3 286.2 464.9 288.6 461.7C291.0 458.4 293.4 456.3 296.9 454.4C300.3 452.5 304.1 451.3 309.3 450.3C314.5 449.2 321.7 449.3 328.0 448.2C334.2 447.1 342.4 444.7 347.0 443.6C351.6 442.6 351.8 441.9 355.3 442.0C358.7 442.1 363.9 442.7 367.7 444.1C371.5 445.4 374.9 447.3 378.1 450.3C381.2 453.2 383.6 458.4 386.3 461.7C389.1 464.9 390.8 467.7 394.6 469.9C398.4 472.2 403.9 473.7 409.1 475.1C414.3 476.5 417.7 477.7 425.7 478.2C433.6 478.7 451.6 478.2 456.7 478.2L460.0 512.0L235.0 512.0Z" fill="#e1ffff"/><path d="M238.9 495.8C243.4 495.8 259.3 497.0 265.8 495.8C272.4 494.6 274.8 491.2 278.3 488.6C281.7 486.0 283.8 483.4 286.5 480.3C289.3 477.2 291.4 473.0 294.8 469.9C298.3 466.8 302.4 463.6 307.2 461.7C312.1 459.8 319.0 459.6 323.8 458.6C328.6 457.5 332.4 456.5 336.2 455.4C340.1 454.4 343.1 452.7 347.0 452.3C350.9 452.0 355.3 452.5 359.4 453.4C363.6 454.2 368.4 455.4 371.8 457.5C375.3 459.6 377.4 463.0 380.1 465.8C382.9 468.6 385.0 471.7 388.4 474.1C391.9 476.5 396.0 478.6 400.8 480.3C405.7 482.0 411.9 483.4 417.4 484.4C422.9 485.5 427.4 486.2 434.0 486.5C440.5 486.8 452.9 486.5 456.7 486.5L460.0 512.0L235.0 512.0Z" fill="#96d2fa"/><path d="M238.9 501.0C243.8 500.6 260.7 500.3 267.9 498.9C275.2 497.5 278.3 495.1 282.4 492.7C286.5 490.3 289.3 486.8 292.8 484.4C296.2 482.0 299.3 479.9 303.1 478.2C306.9 476.5 312.1 475.8 315.5 474.1C319.0 472.4 320.4 469.6 323.8 467.9C327.3 466.1 332.4 464.4 336.2 463.7C340.1 463.0 343.5 463.6 347.0 463.7C350.5 463.9 353.9 463.7 357.4 464.8C360.8 465.8 364.9 467.7 367.7 469.9C370.5 472.2 371.2 475.5 373.9 478.2C376.7 481.0 380.1 484.1 384.3 486.5C388.4 488.9 393.6 491.0 398.8 492.7C403.9 494.4 409.5 495.8 415.3 496.9C421.2 497.9 427.1 498.2 434.0 498.9C440.9 499.7 452.9 501.0 456.7 501.4L460.0 512.0L235.0 512.0Z" fill="#78b9fa"/><path d="M278.3 509.3C279.0 508.5 279.6 507.0 282.4 504.9C285.2 502.9 290.7 499.1 294.8 496.9C299.0 494.6 303.1 493.1 307.2 491.7C311.4 490.3 316.9 490.5 319.7 488.6C322.4 486.7 321.4 482.4 323.8 480.3C326.2 478.2 330.3 476.8 334.2 476.1C338.0 475.5 343.5 475.9 347.0 476.6C350.5 477.3 353.6 478.3 355.3 480.3C357.0 482.3 356.0 485.8 357.4 488.6C358.7 491.3 360.8 495.1 363.6 496.9C366.3 498.6 369.8 498.2 373.9 498.9C378.1 499.6 382.5 500.3 388.4 501.0C394.3 501.7 403.6 501.7 409.1 503.1C414.6 504.4 419.5 508.2 421.5 509.3L460.0 512.0L235.0 512.0Z" fill="#50a5f5"/><rect x="288.6" y="502" width="9.3" height="4" fill="#fff"/><rect x="323.8" y="502" width="12.4" height="4" fill="#fff"/><rect x="348.0" y="502" width="9.3" height="4" fill="#fff"/><path d="M243.6 362.20H451.4M243.6 367.69H451.4M243.6 373.19H451.4M243.6 378.69H451.4M243.6 384.18H451.4M243.6 389.68H451.4M243.6 395.17H451.4M243.6 400.67H451.4M243.6 406.17H451.4M243.6 411.66H451.4M243.6 417.16H451.4M243.6 422.66H451.4M243.6 428.15H451.4M243.6 433.65H451.4M243.6 439.14H451.4M243.6 444.64H451.4M243.6 450.14H451.4M243.6 455.63H451.4M243.6 461.13H451.4M243.6 466.63H451.4M243.6 472.12H451.4M243.6 477.62H451.4M243.6 483.11H451.4M243.6 488.61H451.4M243.6 494.11H451.4M243.6 499.60H451.4" stroke="#fff" stroke-opacity="0.1" stroke-width="0.75" fill="none"/></g><rect x="243.6" y="356.7" width="207.8" height="148.4" fill="none" stroke="#000" stroke-width="1.1"/><text x="248.3" y="354.0" font-size="11" letter-spacing="0.9">(f)</text><path d="M243.6 356.7h-2" stroke="#999" stroke-width="0.8"/><path d="M243.6 393.8h-2" stroke="#999" stroke-width="0.8"/><path d="M243.6 430.9h-2" stroke="#999" stroke-width="0.8"/><path d="M243.6 468.0h-2" stroke="#999" stroke-width="0.8"/><path d="M243.6 505.1h-2" stroke="#999" stroke-width="0.8"/><path d="M274.6 505.1v2.5" stroke="#555" stroke-width="0.8"/><text x="266.8" y="517.2" font-size="9.6" textLength="15.6" lengthAdjust="spacingAndGlyphs">60S</text><path d="M311.3 505.1v2.5" stroke="#555" stroke-width="0.8"/><text x="303.5" y="517.2" font-size="9.6" textLength="15.6" lengthAdjust="spacingAndGlyphs">30S</text><path d="M348.0 505.1v2.5" stroke="#555" stroke-width="0.8"/><text x="342.2" y="517.2" font-size="9.6" textLength="11.5" lengthAdjust="spacingAndGlyphs">EQ</text><path d="M384.7 505.1v2.5" stroke="#555" stroke-width="0.8"/><text x="376.9" y="517.2" font-size="9.6" textLength="15.6" lengthAdjust="spacingAndGlyphs">30N</text><path d="M421.4 505.1v2.5" stroke="#555" stroke-width="0.8"/><text x="413.6" y="517.2" font-size="9.6" textLength="15.6" lengthAdjust="spacingAndGlyphs">60N</text><g clip-path="url(#cg)"><rect x="29.5" y="524.3" width="208.9" height="147.8" fill="#ffa000"/><path d="M96.3 521.0C96.0 523.1 95.3 528.9 94.2 533.4C93.2 537.9 92.5 544.1 90.1 547.9C87.7 551.7 81.7 553.1 79.8 556.2C77.9 559.3 79.8 563.1 78.7 566.5C77.7 570.0 76.1 574.3 73.5 576.9C71.0 579.5 67.3 581.6 63.2 582.1C59.1 582.6 53.2 580.2 48.7 580.0C44.2 579.8 40.1 581.2 36.3 581.0C32.5 580.9 27.7 579.3 25.9 579.0L20.0 515.0Z" fill="#ff6000"/><path d="M94.7 546.9C94.9 545.8 96.7 544.5 97.4 544.8C98.0 545.2 98.6 547.9 98.4 548.9C98.1 550.0 96.5 551.4 95.9 551.0C95.3 550.7 94.4 547.9 94.7 546.9Z" fill="#ff6000"/><path d="M99.4 544.2C99.7 543.5 101.3 542.9 101.7 543.4C102.2 543.8 102.4 546.2 102.1 546.9C101.8 547.6 100.5 547.9 100.0 547.5C99.6 547.1 99.1 544.9 99.4 544.2Z" fill="#ff6000"/><path d="M169.2 540.7C169.8 539.3 171.2 537.9 173.3 537.6C175.5 537.2 180.5 537.6 182.0 538.6C183.6 539.6 183.8 542.6 182.7 543.8C181.5 544.9 177.6 545.1 175.4 545.4C173.2 545.8 170.6 546.6 169.6 545.8C168.6 545.1 168.6 542.0 169.2 540.7Z" fill="#ff6000"/><path d="M205.4 540.7L211.0 529.7L215.8 536.5L241.7 535.1L241.7 583.1L230.3 583.1L225.1 569.7L219.9 562.4L215.8 547.9L213.7 562.4L206.5 568.6L200.2 576.9L195.1 576.9L202.3 565.5L206.5 554.1Z" fill="#ffc03c" stroke="#ffc03c" stroke-width="1.5" stroke-linejoin="round"/><path d="M231.3 557.2C231.8 554.6 234.6 554.0 235.4 556.2C236.3 558.4 237.0 568.1 236.5 570.7C236.0 573.3 233.2 574.0 232.3 571.7C231.5 569.5 230.8 559.8 231.3 557.2Z" fill="#ffa000"/><path d="M25.9 593.5C28.3 593.6 35.9 594.5 40.4 594.5C44.9 594.5 48.0 593.3 52.8 593.5C57.7 593.6 64.6 596.2 69.4 595.5C74.2 594.8 77.3 591.7 81.8 589.3C86.3 586.9 91.5 583.8 96.3 581.0C101.2 578.3 106.7 574.7 110.8 572.8C115.0 570.9 117.3 570.0 121.2 569.7C125.0 569.3 130.5 569.8 134.0 570.7C137.5 571.6 139.2 573.1 142.3 574.8C145.4 576.6 149.9 581.0 152.6 581.0C155.4 581.0 156.8 577.1 158.8 574.8C160.9 572.6 162.3 568.4 165.1 567.6C167.8 566.7 172.6 568.4 175.4 569.7C178.2 570.9 180.2 572.2 181.6 574.8C183.0 577.4 182.0 582.4 183.7 585.2C185.4 587.9 188.9 589.3 192.0 591.4C195.1 593.5 198.2 596.2 202.3 597.6C206.5 599.0 212.7 599.5 216.8 599.7C221.0 599.8 223.0 597.8 227.2 598.6C231.3 599.5 239.2 603.8 241.7 604.8L245.0 680.0L20.0 680.0Z" fill="#ffc03c"/><path d="M25.9 603.8C28.3 604.0 35.6 605.0 40.4 604.8C45.3 604.7 49.4 602.9 54.9 602.8C60.4 602.6 68.4 605.0 73.5 603.8C78.7 602.6 81.5 597.9 86.0 595.5C90.5 593.1 95.6 591.2 100.5 589.3C105.3 587.4 109.4 585.0 115.0 584.1C120.5 583.3 129.4 583.6 134.0 584.1C138.6 584.7 139.9 585.4 142.3 587.2C144.7 589.1 146.1 593.6 148.5 595.5C150.9 597.4 154.0 598.6 156.8 598.6C159.5 598.6 162.3 595.0 165.1 595.5C167.8 596.0 170.2 600.0 173.3 601.7C176.4 603.5 179.9 604.8 183.7 605.9C187.5 606.9 192.0 606.9 196.1 608.0C200.2 609.0 204.0 610.9 208.5 612.1C213.0 613.3 217.5 614.4 223.0 615.2C228.5 616.0 238.6 616.4 241.7 616.6L245.0 680.0L20.0 680.0Z" fill="#ffe878"/><path d="M25.9 613.1C29.7 613.0 41.5 612.3 48.7 612.1C55.9 611.9 63.9 612.8 69.4 612.1C74.9 611.4 77.7 609.5 81.8 608.0C86.0 606.4 89.4 604.8 94.2 602.8C99.1 600.7 106.0 597.1 110.8 595.5C115.6 594.0 119.4 593.4 123.2 593.5C127.1 593.5 131.2 595.1 134.0 595.9C136.8 596.8 138.1 597.3 140.2 598.6C142.3 599.9 144.0 602.3 146.4 603.8C148.8 605.4 151.6 607.1 154.7 608.0C157.8 608.8 161.6 608.0 165.1 609.0C168.5 610.0 171.6 612.8 175.4 614.2C179.2 615.5 183.3 616.2 187.8 617.3C192.3 618.3 197.5 619.2 202.3 620.4C207.2 621.6 212.7 623.1 216.8 624.5C221.0 625.9 223.0 627.1 227.2 628.7C231.3 630.2 239.2 633.0 241.7 633.8L245.0 680.0L20.0 680.0Z" fill="#fffaaa"/><path d="M29.5 529.77H238.4M29.5 535.25H238.4M29.5 540.72H238.4M29.5 546.20H238.4M29.5 551.67H238.4M29.5 557.14H238.4M29.5 562.62H238.4M29.5 568.09H238.4M29.5 573.57H238.4M29.5 579.04H238.4M29.5 584.51H238.4M29.5 589.99H238.4M29.5 595.46H238.4M29.5 600.94H238.4M29.5 606.41H238.4M29.5 611.89H238.4M29.5 617.36H238.4M29.5 622.83H238.4M29.5 628.31H238.4M29.5 633.78H238.4M29.5 639.26H238.4M29.5 644.73H238.4M29.5 650.20H238.4M29.5 655.68H238.4M29.5 661.15H238.4M29.5 666.63H238.4" stroke="#fff" stroke-opacity="0.3" stroke-width="0.75" fill="none"/><path d="M25.9 621.4C29.7 621.2 41.5 620.5 48.7 620.0C55.9 619.4 63.5 619.1 69.4 618.3C75.3 617.5 79.1 616.4 83.9 615.2C88.7 614.0 93.9 612.4 98.4 611.1C102.9 609.7 106.7 607.8 110.8 606.9C115.0 606.1 119.4 605.6 123.2 605.9C127.1 606.2 130.5 607.9 134.0 608.6C137.5 609.3 140.9 609.4 144.4 610.0C147.8 610.6 151.6 611.1 154.7 612.1C157.8 613.1 159.5 614.5 163.0 616.2C166.4 618.0 171.3 620.9 175.4 622.4C179.5 624.0 183.3 624.2 187.8 625.6C192.3 626.9 197.8 629.2 202.3 630.7C206.8 632.3 210.9 633.1 214.7 634.9C218.5 636.6 220.6 639.5 225.1 641.1C229.6 642.6 238.9 643.7 241.7 644.2L245.0 680.0L20.0 680.0Z" fill="#e1ffff"/><path d="M25.9 628.7C29.7 628.3 41.5 627.3 48.7 626.6C55.9 625.9 63.2 625.2 69.4 624.5C75.6 623.8 80.8 623.5 86.0 622.4C91.1 621.4 95.6 619.3 100.5 618.3C105.3 617.3 110.5 616.9 115.0 616.2C119.4 615.5 124.2 614.2 127.4 614.2C130.5 614.2 130.8 615.7 134.0 616.2C137.2 616.8 142.3 616.8 146.4 617.3C150.6 617.8 155.4 617.8 158.8 619.3C162.3 620.9 163.7 624.7 167.1 626.6C170.6 628.5 175.1 629.3 179.5 630.7C184.0 632.1 189.6 633.5 194.0 634.9C198.5 636.2 203.0 637.3 206.5 639.0C209.9 640.7 212.0 643.1 214.7 645.2C217.5 647.3 218.5 649.9 223.0 651.4C227.5 653.0 238.6 654.0 241.7 654.5L245.0 680.0L20.0 680.0Z" fill="#96d2fa"/><path d="M25.9 639.0C29.7 638.7 42.1 637.8 48.7 636.9C55.3 636.1 59.7 635.0 65.3 633.8C70.8 632.6 76.3 631.2 81.8 629.7C87.3 628.1 92.9 625.9 98.4 624.5C103.9 623.1 109.0 621.8 115.0 621.4C120.9 621.1 128.8 622.1 134.0 622.4C139.2 622.8 142.6 622.8 146.4 623.5C150.2 624.2 153.3 625.0 156.8 626.6C160.2 628.1 163.3 631.1 167.1 632.8C170.9 634.5 175.4 635.6 179.5 636.9C183.7 638.3 187.8 639.7 192.0 641.1C196.1 642.5 201.3 643.1 204.4 645.2C207.5 647.3 207.8 651.4 210.6 653.5C213.4 655.6 215.8 656.1 221.0 657.6C226.1 659.2 238.2 662.0 241.7 662.8L245.0 680.0L20.0 680.0Z" fill="#78b9fa"/><path d="M25.9 665.9C27.7 664.5 32.5 659.4 36.3 657.6C40.1 655.9 45.6 657.0 48.7 655.6C51.8 654.2 51.5 651.1 54.9 649.4C58.4 647.6 64.6 646.6 69.4 645.2C74.2 643.8 79.4 642.5 83.9 641.1C88.4 639.7 93.2 638.7 96.3 636.9C99.4 635.2 99.1 632.3 102.5 630.7C106.0 629.2 111.8 628.0 117.0 627.6C122.3 627.2 129.4 628.1 134.0 628.2C138.6 628.4 140.9 627.7 144.4 628.7C147.8 629.6 150.9 631.9 154.7 633.8C158.5 635.7 162.6 638.1 167.1 640.0C171.6 641.9 177.1 643.7 181.6 645.2C186.1 646.8 190.2 647.6 194.0 649.4C197.8 651.1 201.3 653.5 204.4 655.6C207.5 657.6 209.2 660.1 212.7 661.8C216.1 663.5 220.3 664.7 225.1 665.9C229.9 667.1 238.9 668.5 241.7 669.0L245.0 680.0L20.0 680.0Z" fill="#50a5f5"/><path d="M74.6 676.3C75.1 674.5 75.4 668.3 77.7 665.9C79.9 663.5 84.9 663.2 88.0 661.8C91.1 660.4 94.6 660.1 96.3 657.6C98.0 655.2 97.0 650.4 98.4 647.3C99.8 644.2 101.5 640.9 104.6 639.0C107.7 637.1 112.1 636.8 117.0 635.9C121.9 635.0 129.8 633.7 134.0 633.8C138.2 634.0 139.2 635.4 142.3 636.9C145.4 638.5 148.5 641.4 152.6 643.1C156.8 644.9 162.3 645.6 167.1 647.3C172.0 649.0 176.8 651.4 181.6 653.5C186.4 655.6 192.0 657.6 196.1 659.7C200.2 661.8 203.5 663.2 206.5 665.9C209.4 668.7 212.5 674.5 213.7 676.3L245.0 680.0L20.0 680.0Z" fill="#3c96f5"/><rect x="138.1" y="668.5" width="10" height="4" rx="1.5" fill="#fff"/><path d="M29.5 529.77H238.4M29.5 535.25H238.4M29.5 540.72H238.4M29.5 546.20H238.4M29.5 551.67H238.4M29.5 557.14H238.4M29.5 562.62H238.4M29.5 568.09H238.4M29.5 573.57H238.4M29.5 579.04H238.4M29.5 584.51H238.4M29.5 589.99H238.4M29.5 595.46H238.4M29.5 600.94H238.4M29.5 606.41H238.4M29.5 611.89H238.4M29.5 617.36H238.4M29.5 622.83H238.4M29.5 628.31H238.4M29.5 633.78H238.4M29.5 639.26H238.4M29.5 644.73H238.4M29.5 650.20H238.4M29.5 655.68H238.4M29.5 661.15H238.4M29.5 666.63H238.4" stroke="#fff" stroke-opacity="0.1" stroke-width="0.75" fill="none"/></g><rect x="29.5" y="524.3" width="208.9" height="147.8" fill="none" stroke="#000" stroke-width="1.1"/><text x="34.2" y="521.6" font-size="11" letter-spacing="0.9">(g)</text><path d="M29.5 524.3h-3.2" stroke="#777" stroke-width="0.8"/><text x="13.0" y="528.4" font-size="10.9" textLength="13.0" lengthAdjust="spacingAndGlyphs">60</text><path d="M29.5 561.2h-3.2" stroke="#777" stroke-width="0.8"/><text x="13.0" y="565.4" font-size="10.9" textLength="13.0" lengthAdjust="spacingAndGlyphs">50</text><path d="M29.5 598.2h-3.2" stroke="#777" stroke-width="0.8"/><text x="13.0" y="602.3" font-size="10.9" textLength="13.0" lengthAdjust="spacingAndGlyphs">40</text><path d="M29.5 635.1h-3.2" stroke="#777" stroke-width="0.8"/><text x="13.0" y="639.2" font-size="10.9" textLength="13.0" lengthAdjust="spacingAndGlyphs">30</text><path d="M29.5 672.1h-3.2" stroke="#777" stroke-width="0.8"/><text x="13.0" y="676.2" font-size="10.9" textLength="13.0" lengthAdjust="spacingAndGlyphs">20</text><path d="M60.5 672.1v2.5" stroke="#555" stroke-width="0.8"/><path d="M97.2 672.1v2.5" stroke="#555" stroke-width="0.8"/><path d="M133.9 672.1v2.5" stroke="#555" stroke-width="0.8"/><path d="M170.6 672.1v2.5" stroke="#555" stroke-width="0.8"/><path d="M207.3 672.1v2.5" stroke="#555" stroke-width="0.8"/><g clip-path="url(#ch)"><rect x="243.6" y="524.3" width="208.8" height="147.8" fill="#ffe878"/><path d="M238.9 570.3C241.0 569.8 247.9 569.2 251.4 567.6C254.8 565.9 257.6 563.3 259.6 560.3C261.7 557.4 262.6 553.4 263.8 550.0C265.0 546.5 265.8 540.0 266.9 539.6C267.9 539.3 268.8 544.6 270.0 547.9C271.2 551.2 272.7 558.6 274.1 559.3C275.5 560.0 276.9 555.7 278.3 552.1C279.6 548.4 281.3 543.1 282.4 537.6C283.5 532.0 284.5 522.0 284.9 518.9L235.0 515.0Z" fill="#fffaaa"/><path d="M247.2 543.8C247.6 542.0 248.8 538.8 250.3 537.6C251.9 536.4 255.3 536.0 256.5 536.5C257.7 537.0 258.1 538.9 257.6 540.7C257.0 542.4 255.0 545.7 253.4 546.9C251.9 548.1 249.3 548.4 248.2 547.9C247.2 547.4 246.9 545.5 247.2 543.8Z" fill="#e1ffff"/><path d="M275.2 526.2C275.5 525.2 277.3 524.9 277.9 525.6C278.4 526.2 279.0 529.4 278.7 530.3C278.3 531.3 276.4 532.0 275.8 531.4C275.2 530.7 274.8 527.1 275.2 526.2Z" fill="#e1ffff"/><path d="M311.4 518.9C312.6 521.5 315.9 532.0 318.6 534.5C321.4 536.9 324.7 533.9 328.0 533.4C331.2 532.9 335.1 530.5 338.3 531.4C341.5 532.2 345.2 537.0 347.0 538.6C348.8 540.2 348.6 542.2 349.1 540.7C349.6 539.1 350.3 532.9 350.1 529.3C349.9 525.7 348.4 520.7 348.0 518.9Z" fill="#fffaaa"/><path d="M364.6 526.2C365.1 525.2 368.8 525.0 369.8 525.6C370.7 526.1 370.7 528.3 370.2 529.3C369.7 530.2 367.6 531.9 366.7 531.4C365.7 530.8 364.1 527.1 364.6 526.2Z" fill="#fffaaa"/><path d="M296.9 543.8C297.6 542.4 300.3 541.0 302.1 540.7C303.8 540.3 306.5 540.2 307.2 541.7C308.0 543.3 307.5 548.3 306.8 550.0C306.1 551.7 304.6 552.2 303.1 552.1C301.6 551.9 299.0 550.3 297.9 548.9C296.9 547.6 296.2 545.2 296.9 543.8Z" fill="#ffc03c"/><path d="M318.4 549.6C318.6 548.7 319.9 548.4 320.3 548.9C320.7 549.5 321.1 552.2 320.9 553.1C320.7 554.0 319.7 554.7 319.3 554.1C318.8 553.5 318.3 550.4 318.4 549.6Z" fill="#ffc03c"/><path d="M286.1 561.4C286.4 559.7 288.1 557.9 289.0 557.9C290.0 557.9 290.8 561.5 291.7 561.4C292.6 561.3 293.6 557.1 294.4 557.2C295.3 557.4 296.8 560.2 296.9 562.4C297.0 564.6 296.3 568.9 295.2 570.7C294.2 572.5 292.0 573.7 290.7 573.2C289.4 572.7 288.3 569.5 287.6 567.6C286.8 565.6 285.9 563.0 286.1 561.4Z" fill="#ffc03c"/><path d="M238.9 580.0C241.0 580.2 248.6 580.5 251.4 581.0C254.1 581.6 253.4 583.5 255.5 583.1C257.6 582.8 261.0 579.3 263.8 579.0C266.5 578.6 270.2 579.7 272.1 581.0C274.0 582.4 275.2 584.5 275.2 587.2C275.2 590.0 273.6 594.5 272.1 597.6C270.5 600.7 267.9 603.5 265.8 605.9C263.8 608.3 261.7 611.1 259.6 612.1C257.6 613.1 255.1 612.8 253.4 612.1C251.7 611.4 251.7 608.0 249.3 608.0C246.9 608.0 240.7 611.4 238.9 612.1Z" fill="#ffc03c"/><path d="M393.6 518.9C393.2 521.3 392.4 529.3 391.5 533.4C390.6 537.6 388.6 540.3 388.4 543.8C388.2 547.2 389.3 551.0 390.5 554.1C391.7 557.2 395.0 559.3 395.7 562.4C396.3 565.5 393.8 569.3 394.6 572.8C395.5 576.2 398.4 580.0 400.8 583.1C403.2 586.2 405.3 589.3 409.1 591.4C412.9 593.5 419.1 595.5 423.6 595.5C428.1 595.5 430.5 592.1 436.0 591.4C441.5 590.7 453.3 591.4 456.7 591.4L460.0 515.0Z" fill="#ffc03c"/><path d="M456.7 538.0C454.7 538.3 447.8 538.3 444.3 539.6C440.9 540.9 438.4 545.2 436.0 545.8C433.6 546.5 432.2 543.8 429.8 543.8C427.4 543.8 423.3 543.8 421.5 545.8C419.8 547.9 420.8 553.8 419.5 556.2C418.1 558.6 415.0 558.6 413.2 560.3C411.5 562.1 409.1 564.5 409.1 566.5C409.1 568.6 411.5 571.4 413.2 572.8C415.0 574.1 417.7 573.8 419.5 574.8C421.2 575.9 421.9 579.3 423.6 579.0C425.3 578.6 427.7 574.5 429.8 572.8C431.9 571.0 434.0 568.3 436.0 568.6C438.1 569.0 438.8 574.2 442.2 574.8C445.7 575.4 454.3 572.8 456.7 572.3Z" fill="#ffa000"/><path d="M380.1 552.1C380.4 551.0 381.5 549.6 382.2 550.0C382.9 550.3 384.2 552.7 384.3 554.1C384.3 555.5 383.2 557.9 382.6 558.3C382.0 558.6 381.0 557.2 380.5 556.2C380.1 555.2 379.8 553.1 380.1 552.1Z" fill="#ffc03c"/><path d="M238.9 642.1C241.3 642.3 249.3 644.0 253.4 643.1C257.6 642.3 260.7 640.0 263.8 636.9C266.9 633.8 268.9 628.3 272.1 624.5C275.2 620.7 278.6 617.3 282.4 614.2C286.2 611.1 290.3 608.0 294.8 605.9C299.3 603.8 304.5 603.1 309.3 601.7C314.2 600.4 319.3 599.3 323.8 597.6C328.3 595.9 332.4 594.1 336.2 591.4C340.1 588.7 343.8 583.9 347.0 581.5C350.2 579.0 352.9 577.3 355.3 576.9C357.7 576.5 359.1 578.3 361.5 579.0C363.9 579.7 367.0 581.4 369.8 581.0C372.5 580.7 375.6 575.9 378.1 576.9C380.5 577.9 381.9 583.8 384.3 587.2C386.7 590.7 389.1 594.8 392.5 597.6C396.0 600.4 400.5 602.4 405.0 603.8C409.5 605.2 414.6 605.9 419.5 605.9C424.3 605.9 427.7 604.6 434.0 603.8C440.2 603.1 452.9 601.7 456.7 601.3L460.0 680.0L235.0 680.0Z" fill="#fffaaa"/><path d="M243.6 529.77H452.4M243.6 535.25H452.4M243.6 540.72H452.4M243.6 546.20H452.4M243.6 551.67H452.4M243.6 557.14H452.4M243.6 562.62H452.4M243.6 568.09H452.4M243.6 573.57H452.4M243.6 579.04H452.4M243.6 584.51H452.4M243.6 589.99H452.4M243.6 595.46H452.4M243.6 600.94H452.4M243.6 606.41H452.4M243.6 611.89H452.4M243.6 617.36H452.4M243.6 622.83H452.4M243.6 628.31H452.4M243.6 633.78H452.4M243.6 639.26H452.4M243.6 644.73H452.4M243.6 650.20H452.4M243.6 655.68H452.4M243.6 661.15H452.4M243.6 666.63H452.4" stroke="#fff" stroke-opacity="0.3" stroke-width="0.75" fill="none"/><path d="M238.9 651.4C242.0 651.3 252.7 651.4 257.6 650.4C262.4 649.4 264.8 647.8 267.9 645.2C271.0 642.6 273.4 638.3 276.2 634.9C279.0 631.4 281.0 627.4 284.5 624.5C287.9 621.6 292.4 619.2 296.9 617.3C301.4 615.4 306.2 614.7 311.4 613.1C316.6 611.6 323.1 609.7 328.0 608.0C332.8 606.2 337.2 604.1 340.4 602.8C343.5 601.5 344.2 600.6 347.0 600.3C349.8 599.9 354.2 601.2 357.4 600.7C360.5 600.3 362.9 597.6 365.6 597.6C368.4 597.6 371.2 599.0 373.9 600.7C376.7 602.4 379.4 605.7 382.2 608.0C385.0 610.2 387.0 612.1 390.5 614.2C393.9 616.2 398.4 619.0 402.9 620.4C407.4 621.8 412.2 621.9 417.4 622.4C422.6 623.0 427.4 623.5 434.0 623.5C440.5 623.5 452.9 622.6 456.7 622.4L460.0 680.0L235.0 680.0Z" fill="#e1ffff"/><path d="M238.9 661.8C241.7 661.8 250.7 662.8 255.5 661.8C260.3 660.7 264.5 658.3 267.9 655.6C271.4 652.8 273.8 648.5 276.2 645.2C278.6 641.9 279.6 639.0 282.4 635.9C285.2 632.8 289.3 628.8 292.8 626.6C296.2 624.3 298.6 623.5 303.1 622.4C307.6 621.4 314.8 621.4 319.7 620.4C324.5 619.3 328.3 617.6 332.1 616.2C335.9 614.9 340.0 612.7 342.4 612.1C344.9 611.5 344.5 612.7 347.0 612.7C349.5 612.7 353.9 612.0 357.4 612.1C360.8 612.2 364.3 613.0 367.7 613.1C371.2 613.3 376.0 611.9 378.1 613.1C380.1 614.3 378.4 618.1 380.1 620.4C381.9 622.6 384.6 624.9 388.4 626.6C392.2 628.3 398.1 629.5 402.9 630.7C407.7 631.9 412.2 633.1 417.4 633.8C422.6 634.5 427.4 634.7 434.0 634.9C440.5 635.0 452.9 634.9 456.7 634.9L460.0 680.0L235.0 680.0Z" fill="#96d2fa"/><path d="M238.9 667.0C242.0 666.8 252.4 667.1 257.6 665.9C262.7 664.7 266.5 662.5 270.0 659.7C273.4 657.0 275.9 652.5 278.3 649.4C280.7 646.3 281.7 643.7 284.5 641.1C287.2 638.5 290.7 636.2 294.8 633.8C299.0 631.4 304.5 628.3 309.3 626.6C314.2 624.9 319.3 624.4 323.8 623.5C328.3 622.5 332.4 621.0 336.2 620.8C340.1 620.5 343.5 621.9 347.0 622.0C350.5 622.1 353.9 621.7 357.4 621.4C360.8 621.1 364.3 619.9 367.7 620.4C371.2 620.9 374.9 622.8 378.1 624.5C381.2 626.2 382.9 628.7 386.3 630.7C389.8 632.8 394.6 635.2 398.8 636.9C402.9 638.7 406.7 639.7 411.2 641.1C415.7 642.5 421.2 644.5 425.7 645.2C430.2 645.9 432.9 645.0 438.1 645.2C443.3 645.5 453.6 646.4 456.7 646.7L460.0 680.0L235.0 680.0Z" fill="#78b9fa"/><path d="M249.3 676.3C250.0 675.5 250.7 673.7 253.4 671.9C256.2 670.2 262.0 668.6 265.8 665.9C269.6 663.2 273.1 659.0 276.2 655.6C279.3 652.1 281.0 648.0 284.5 645.2C287.9 642.5 292.4 641.1 296.9 639.0C301.4 636.9 306.2 634.5 311.4 632.8C316.6 631.1 322.0 629.1 328.0 628.7C333.9 628.2 342.4 630.1 347.0 630.3C351.6 630.5 351.8 629.3 355.3 629.7C358.7 630.1 363.6 631.6 367.7 632.8C371.8 634.0 376.0 635.2 380.1 636.9C384.3 638.7 388.4 641.4 392.5 643.1C396.7 644.9 400.8 645.6 405.0 647.3C409.1 649.0 413.2 651.9 417.4 653.5C421.5 655.1 425.7 655.9 429.8 656.6C434.0 657.3 437.7 657.2 442.2 657.6C446.7 658.1 454.3 659.0 456.7 659.3L460.0 680.0L235.0 680.0Z" fill="#50a5f5"/><path d="M261.7 676.3C262.4 675.5 263.4 674.0 265.8 671.9C268.3 669.9 273.1 666.6 276.2 663.9C279.3 661.1 281.4 658.0 284.5 655.6C287.6 653.2 290.7 651.4 294.8 649.4C299.0 647.3 304.5 645.2 309.3 643.1C314.2 641.1 319.3 638.4 323.8 636.9C328.3 635.5 332.4 634.3 336.2 634.5C340.1 634.6 343.1 637.2 347.0 638.0C350.9 638.7 354.6 638.7 359.4 639.0C364.3 639.4 372.2 638.7 376.0 640.0C379.8 641.4 379.1 645.0 382.2 647.3C385.3 649.5 390.5 651.4 394.6 653.5C398.8 655.6 402.6 658.3 407.0 659.7C411.5 661.1 416.7 660.9 421.5 661.8C426.4 662.6 430.2 663.7 436.0 664.9C441.9 666.1 453.3 668.3 456.7 669.0L460.0 680.0L235.0 680.0Z" fill="#3c96f5"/><path d="M243.6 529.77H452.4M243.6 535.25H452.4M243.6 540.72H452.4M243.6 546.20H452.4M243.6 551.67H452.4M243.6 557.14H452.4M243.6 562.62H452.4M243.6 568.09H452.4M243.6 573.57H452.4M243.6 579.04H452.4M243.6 584.51H452.4M243.6 589.99H452.4M243.6 595.46H452.4M243.6 600.94H452.4M243.6 606.41H452.4M243.6 611.89H452.4M243.6 617.36H452.4M243.6 622.83H452.4M243.6 628.31H452.4M243.6 633.78H452.4M243.6 639.26H452.4M243.6 644.73H452.4M243.6 650.20H452.4M243.6 655.68H452.4M243.6 661.15H452.4M243.6 666.63H452.4" stroke="#fff" stroke-opacity="0.1" stroke-width="0.75" fill="none"/></g><rect x="243.6" y="524.3" width="208.8" height="147.8" fill="none" stroke="#000" stroke-width="1.1"/><text x="248.3" y="521.6" font-size="11" letter-spacing="0.9">(h)</text><path d="M243.6 524.3h-2" stroke="#999" stroke-width="0.8"/><path d="M243.6 561.2h-2" stroke="#999" stroke-width="0.8"/><path d="M243.6 598.2h-2" stroke="#999" stroke-width="0.8"/><path d="M243.6 635.1h-2" stroke="#999" stroke-width="0.8"/><path d="M243.6 672.1h-2" stroke="#999" stroke-width="0.8"/><path d="M274.6 672.1v2.5" stroke="#555" stroke-width="0.8"/><path d="M311.3 672.1v2.5" stroke="#555" stroke-width="0.8"/><path d="M348.0 672.1v2.5" stroke="#555" stroke-width="0.8"/><path d="M384.7 672.1v2.5" stroke="#555" stroke-width="0.8"/><path d="M421.4 672.1v2.5" stroke="#555" stroke-width="0.8"/><g clip-path="url(#ci)"><rect x="29.5" y="690.6" width="208.9" height="147.5" fill="#ffc03c"/><path d="M117.0 685.9C117.4 688.3 117.9 696.3 119.1 700.4C120.3 704.6 123.6 707.7 124.3 710.8C125.0 713.9 124.8 716.8 123.2 719.1C121.7 721.3 117.7 722.5 115.0 724.2C112.2 726.0 108.4 727.7 106.7 729.4C104.9 731.1 106.0 734.8 104.6 734.6C103.2 734.4 100.8 728.9 98.4 728.4C96.0 727.9 92.4 729.6 90.1 731.5C87.9 733.4 86.3 737.0 84.9 739.8C83.6 742.5 83.7 746.3 81.8 748.0C79.9 749.8 76.0 750.3 73.5 750.1C71.1 749.9 69.8 747.0 67.3 747.0C64.9 747.0 62.2 749.2 59.1 750.1C55.9 751.0 51.5 752.5 48.7 752.2C45.9 751.8 44.0 750.5 42.5 748.0C40.9 745.6 41.1 739.9 39.4 737.7C37.7 735.4 34.4 734.9 32.1 734.6C29.9 734.2 27.0 735.4 25.9 735.6L20.0 680.0Z" fill="#ffa000"/><path d="M25.9 701.5C27.1 701.1 31.5 700.6 33.2 699.4C34.9 698.2 35.7 696.5 36.3 694.2C36.9 692.0 36.6 687.3 36.7 685.9L20.0 680.0Z" fill="#ffc03c"/><path d="M92.6 687.0C92.8 688.3 92.9 694.0 93.8 695.2C94.8 696.5 97.1 694.1 98.4 694.2C99.7 694.3 100.3 696.0 101.5 695.9C102.7 695.7 104.8 694.7 105.6 693.2C106.4 691.7 106.2 688.0 106.3 687.0Z" fill="#ff6000"/><path d="M122.2 726.3C122.5 724.9 124.3 722.5 125.3 722.2C126.3 721.8 128.1 723.0 128.4 724.2C128.8 725.4 128.2 728.4 127.4 729.4C126.6 730.4 124.5 731.0 123.6 730.4C122.8 729.9 121.9 727.7 122.2 726.3Z" fill="#ffa000"/><path d="M131.9 696.3C133.3 696.5 138.5 696.3 140.2 697.3C141.9 698.4 142.6 700.9 142.3 702.5C141.9 704.0 139.9 705.8 138.1 706.6C136.4 707.5 133.0 707.5 131.9 707.7Z" fill="#ffa000"/><path d="M169.2 685.9C168.9 688.3 168.2 697.0 167.1 700.4C166.1 703.9 165.1 705.3 163.0 706.6C160.9 708.0 156.4 707.5 154.7 708.7C153.0 709.9 152.3 712.2 152.6 713.9C153.0 715.6 155.0 717.3 156.8 719.1C158.5 720.8 160.9 723.0 163.0 724.2C165.1 725.4 167.5 726.8 169.2 726.3C170.9 725.8 172.3 723.4 173.3 721.1C174.4 718.9 173.3 714.9 175.4 712.8C177.5 710.8 182.3 710.1 185.8 708.7C189.2 707.3 192.7 705.8 196.1 704.6C199.6 703.4 202.3 702.3 206.5 701.5C210.6 700.6 216.8 699.4 221.0 699.4C225.1 699.4 227.9 700.4 231.3 701.5C234.8 702.5 239.9 704.9 241.7 705.6L245.0 680.0Z" fill="#ffa000"/><path d="M183.3 687.0C183.7 688.2 184.0 692.9 185.8 694.2C187.6 695.5 192.2 695.8 194.0 694.6C195.8 693.4 196.1 688.2 196.5 687.0Z" fill="#ff6000"/><path d="M208.5 687.0C208.9 687.8 209.4 691.3 210.6 692.1C211.8 693.0 214.7 693.0 215.8 692.1C216.9 691.3 217.0 687.8 217.2 687.0Z" fill="#ff6000"/><path d="M241.7 721.1C240.3 720.4 235.6 718.5 233.4 717.0C231.1 715.4 229.9 712.2 228.2 711.8C226.5 711.5 224.9 713.0 223.0 714.9C221.1 716.8 217.8 721.1 216.8 723.2C215.8 725.3 215.8 725.8 216.8 727.3C217.8 728.9 220.6 731.5 223.0 732.5C225.4 733.5 228.2 732.7 231.3 733.5C234.4 734.4 239.9 737.0 241.7 737.7Z" fill="#ffe878"/><path d="M208.5 726.3C208.4 724.6 210.0 721.5 211.0 721.1C212.0 720.8 213.7 722.9 214.3 724.2C214.9 725.6 215.2 728.2 214.7 729.4C214.3 730.6 212.7 732.0 211.6 731.5C210.6 731.0 208.6 728.0 208.5 726.3Z" fill="#ffe878"/><path d="M203.4 727.3C203.3 726.1 204.5 723.4 205.0 723.2C205.5 723.0 206.4 725.1 206.5 726.3C206.5 727.5 205.9 730.3 205.4 730.4C204.9 730.6 203.4 728.5 203.4 727.3Z" fill="#ffe878"/><path d="M212.3 750.1C212.4 749.2 213.8 748.2 214.3 748.5C214.9 748.7 215.7 750.9 215.6 751.8C215.5 752.7 214.3 754.1 213.7 753.8C213.2 753.6 212.2 751.0 212.3 750.1Z" fill="#ffa000"/><path d="M25.9 767.7C28.3 767.7 35.6 767.4 40.4 767.7C45.3 768.1 50.1 769.3 54.9 769.8C59.7 770.3 64.9 771.2 69.4 770.8C73.9 770.5 78.4 769.1 81.8 767.7C85.3 766.3 87.0 763.7 90.1 762.5C93.2 761.3 97.0 760.6 100.5 760.5C103.9 760.3 107.7 761.8 110.8 761.5C113.9 761.2 116.3 758.7 119.1 758.4C121.9 758.0 124.9 758.7 127.4 759.4C129.9 760.1 131.5 762.5 134.0 762.5C136.5 762.5 139.9 758.9 142.3 759.4C144.7 759.9 146.1 764.3 148.5 765.6C150.9 767.0 154.0 768.7 156.8 767.7C159.5 766.7 162.6 760.1 165.1 759.4C167.5 758.7 168.9 763.6 171.3 763.6C173.7 763.6 176.8 759.3 179.5 759.4C182.3 759.6 184.7 763.2 187.8 764.6C190.9 766.0 194.7 766.7 198.2 767.7C201.6 768.7 205.4 769.6 208.5 770.8C211.6 772.0 213.7 774.3 216.8 775.0C219.9 775.6 223.0 775.1 227.2 775.0C231.3 774.8 239.2 774.1 241.7 773.9L245.0 845.0L20.0 845.0Z" fill="#ffe878"/><path d="M25.9 779.1C29.0 779.3 39.0 780.1 44.6 780.1C50.1 780.1 54.2 779.3 59.1 779.1C63.9 778.9 68.4 779.4 73.5 779.1C78.7 778.7 84.6 777.5 90.1 777.0C95.6 776.5 102.2 776.5 106.7 776.0C111.2 775.5 112.5 774.0 117.0 773.9C121.6 773.8 129.1 774.8 134.0 775.4C138.9 775.9 142.3 776.4 146.4 777.0C150.6 777.6 154.7 779.1 158.8 779.1C163.0 779.1 167.1 777.2 171.3 777.0C175.4 776.9 179.5 777.5 183.7 778.1C187.8 778.6 192.0 779.4 196.1 780.1C200.2 780.8 204.4 781.5 208.5 782.2C212.7 782.9 215.4 783.8 221.0 784.3C226.5 784.8 238.2 785.1 241.7 785.3L245.0 845.0L20.0 845.0Z" fill="#fffaaa"/><path d="M29.5 696.06H238.4M29.5 701.53H238.4M29.5 706.99H238.4M29.5 712.45H238.4M29.5 717.91H238.4M29.5 723.38H238.4M29.5 728.84H238.4M29.5 734.30H238.4M29.5 739.77H238.4M29.5 745.23H238.4M29.5 750.69H238.4M29.5 756.16H238.4M29.5 761.62H238.4M29.5 767.08H238.4M29.5 772.54H238.4M29.5 778.01H238.4M29.5 783.47H238.4M29.5 788.93H238.4M29.5 794.40H238.4M29.5 799.86H238.4M29.5 805.32H238.4M29.5 810.79H238.4M29.5 816.25H238.4M29.5 821.71H238.4M29.5 827.17H238.4M29.5 832.64H238.4" stroke="#fff" stroke-opacity="0.3" stroke-width="0.75" fill="none"/><path d="M25.9 787.4C29.7 787.3 41.5 787.3 48.7 787.0C55.9 786.6 62.5 785.6 69.4 785.3C76.3 785.0 83.2 785.2 90.1 784.9C97.0 784.5 103.5 783.7 110.8 783.2C118.1 782.8 127.4 782.2 134.0 782.2C140.6 782.2 145.0 782.9 150.6 783.2C156.1 783.6 161.6 784.1 167.1 784.3C172.6 784.4 178.2 783.8 183.7 784.3C189.2 784.8 194.7 786.3 200.2 787.4C205.8 788.4 212.0 789.6 216.8 790.5C221.6 791.3 225.1 792.4 229.2 792.6C233.4 792.7 239.6 791.7 241.7 791.5L245.0 845.0L20.0 845.0Z" fill="#e1ffff"/><path d="M87.0 797.7C86.7 796.0 88.9 793.9 92.2 792.6C95.5 791.2 101.8 790.1 106.7 789.4C111.5 788.8 116.6 788.8 121.2 788.4C125.7 788.0 130.1 787.0 134.0 787.0C137.9 787.0 140.9 787.7 144.4 788.4C147.8 789.2 151.3 790.3 154.7 791.5C158.2 792.7 162.3 794.6 165.1 795.7C167.8 796.7 170.4 796.7 171.3 797.7C172.1 798.8 172.0 800.7 170.2 801.9C168.5 803.1 164.2 803.8 160.9 805.0C157.6 806.2 155.0 808.3 150.6 809.1C146.1 810.0 139.9 810.1 134.0 810.1C128.1 810.1 119.5 810.0 115.0 809.1C110.4 808.3 110.1 806.0 106.7 805.0C103.2 803.9 97.5 804.1 94.2 802.9C91.0 801.7 87.3 799.5 87.0 797.7Z" fill="#96d2fa"/><path d="M64.2 820.5C64.6 819.3 65.8 817.4 69.4 816.4C73.0 815.3 80.8 814.6 86.0 814.3C91.1 813.9 97.7 813.8 100.5 814.3C103.2 814.8 104.3 816.4 102.5 817.4C100.8 818.4 94.6 819.6 90.1 820.5C85.6 821.4 79.4 822.1 75.6 822.6C71.8 823.1 69.2 824.0 67.3 823.6C65.4 823.3 63.9 821.7 64.2 820.5Z" fill="#fffaaa"/><path d="M46.6 823.6C46.6 823.0 47.7 822.1 48.3 822.2C48.8 822.2 49.9 823.2 49.9 823.8C49.9 824.4 48.8 825.7 48.3 825.7C47.7 825.6 46.6 824.2 46.6 823.6Z" fill="#ffe878"/><path d="M158.8 816.4C159.2 815.2 162.3 813.6 165.1 813.3C167.8 812.9 172.1 813.8 175.4 814.3C178.7 814.8 183.0 815.3 184.7 816.4C186.4 817.4 187.3 819.6 185.8 820.5C184.2 821.4 179.2 821.5 175.4 821.5C171.6 821.5 165.7 821.4 163.0 820.5C160.2 819.6 158.5 817.6 158.8 816.4Z" fill="#fffaaa"/><path d="M199.8 822.2C199.6 821.4 201.4 821.1 202.3 821.5C203.3 821.9 205.4 823.8 205.6 824.6C205.9 825.4 204.9 826.7 204.0 826.3C203.0 825.9 200.1 822.9 199.8 822.2Z" fill="#ffe878"/><path d="M76.7 841.2C76.8 839.5 76.5 833.4 77.7 830.9C78.9 828.3 80.4 826.9 83.9 825.7C87.3 824.5 93.2 824.0 98.4 823.6C103.6 823.3 109.0 823.5 115.0 823.6C120.9 823.7 128.8 824.1 134.0 824.2C139.2 824.4 143.0 823.9 146.4 824.6C149.9 825.4 152.9 826.0 154.7 828.8C156.5 831.5 156.8 839.1 157.2 841.2Z" fill="#96d2fa"/><path d="M104.6 841.2C104.9 839.5 105.6 833.2 106.7 830.9C107.7 828.5 106.3 827.7 110.8 827.1C115.4 826.5 128.4 826.8 134.0 827.1C139.6 827.4 141.6 827.8 144.4 828.8C147.1 829.7 149.4 830.9 150.6 832.9C151.8 835.0 151.4 839.8 151.6 841.2Z" fill="#78b9fa"/><path d="M88.0 841.2C88.4 839.5 88.7 832.9 90.1 830.9C91.5 828.8 94.8 828.4 96.3 828.8C97.9 829.1 98.9 830.9 99.4 832.9C99.9 835.0 99.4 839.8 99.4 841.2Z" fill="#78b9fa"/><path d="M158.4 841.2C158.5 839.5 157.7 833.4 158.8 830.9C159.9 828.3 162.3 826.2 165.1 825.7C167.8 825.2 172.5 826.5 175.4 827.7C178.3 829.0 181.0 830.7 182.7 832.9C184.3 835.2 184.7 839.8 185.1 841.2Z" fill="#96d2fa"/><path d="M163.0 841.2C163.2 839.7 163.0 833.8 164.0 831.9C165.1 830.0 167.3 829.6 169.2 829.8C171.1 830.0 174.0 831.0 175.4 832.9C176.8 834.8 177.1 839.8 177.5 841.2Z" fill="#78b9fa"/><path d="M28.0 841.2C28.3 840.0 28.9 835.1 30.1 834.0C31.3 832.9 34.0 833.4 35.2 834.6C36.5 835.8 37.0 840.1 37.3 841.2Z" fill="#96d2fa"/><path d="M42.5 841.2C42.8 839.9 42.7 834.7 44.6 833.3C46.5 832.0 52.0 831.6 53.9 832.9C55.8 834.2 55.6 839.8 55.9 841.2Z" fill="#96d2fa"/><path d="M62.8 831.3C63.7 830.7 67.3 829.5 69.4 829.8C71.5 830.1 74.3 831.0 75.2 832.9C76.1 834.8 75.4 839.8 74.6 841.2C73.8 842.6 71.3 842.4 70.4 841.2C69.6 840.0 70.5 835.3 69.4 834.0C68.3 832.6 64.7 833.4 63.6 832.9C62.5 832.5 61.8 831.8 62.8 831.3Z" fill="#96d2fa"/><path d="M59.1 841.2C59.4 840.2 59.4 836.4 61.1 835.4C62.9 834.4 67.7 834.4 69.4 835.4C71.1 836.4 71.1 840.2 71.5 841.2Z" fill="#fffaaa"/><path d="M77.3 841.2C77.5 840.2 77.3 836.0 78.7 835.0C80.2 834.0 84.6 834.0 86.0 835.0C87.3 836.0 86.8 840.2 87.0 841.2Z" fill="#fffaaa"/><path d="M186.8 841.2C187.3 840.0 188.0 835.3 189.9 834.0C191.8 832.6 195.4 832.7 198.2 832.9C200.9 833.2 204.9 834.0 206.5 835.4C208.0 836.8 207.3 840.2 207.5 841.2Z" fill="#ffe878"/><rect x="100.8" y="834.5" width="57.8" height="3.3" fill="#fff"/><path d="M29.5 696.06H238.4M29.5 701.53H238.4M29.5 706.99H238.4M29.5 712.45H238.4M29.5 717.91H238.4M29.5 723.38H238.4M29.5 728.84H238.4M29.5 734.30H238.4M29.5 739.77H238.4M29.5 745.23H238.4M29.5 750.69H238.4M29.5 756.16H238.4M29.5 761.62H238.4M29.5 767.08H238.4M29.5 772.54H238.4M29.5 778.01H238.4M29.5 783.47H238.4M29.5 788.93H238.4M29.5 794.40H238.4M29.5 799.86H238.4M29.5 805.32H238.4M29.5 810.79H238.4M29.5 816.25H238.4M29.5 821.71H238.4M29.5 827.17H238.4M29.5 832.64H238.4" stroke="#fff" stroke-opacity="0.1" stroke-width="0.75" fill="none"/></g><rect x="29.5" y="690.6" width="208.9" height="147.5" fill="none" stroke="#000" stroke-width="1.1"/><text x="34.2" y="687.9" font-size="11" letter-spacing="0.9">(i)</text><path d="M29.5 690.6h-3.2" stroke="#777" stroke-width="0.8"/><text x="13.0" y="694.7" font-size="10.9" textLength="13.0" lengthAdjust="spacingAndGlyphs">60</text><path d="M29.5 727.5h-3.2" stroke="#777" stroke-width="0.8"/><text x="13.0" y="731.6" font-size="10.9" textLength="13.0" lengthAdjust="spacingAndGlyphs">50</text><path d="M29.5 764.4h-3.2" stroke="#777" stroke-width="0.8"/><text x="13.0" y="768.5" font-size="10.9" textLength="13.0" lengthAdjust="spacingAndGlyphs">40</text><path d="M29.5 801.2h-3.2" stroke="#777" stroke-width="0.8"/><text x="13.0" y="805.3" font-size="10.9" textLength="13.0" lengthAdjust="spacingAndGlyphs">30</text><path d="M29.5 838.1h-3.2" stroke="#777" stroke-width="0.8"/><text x="13.0" y="842.2" font-size="10.9" textLength="13.0" lengthAdjust="spacingAndGlyphs">20</text><path d="M60.5 838.1v2.5" stroke="#555" stroke-width="0.8"/><text x="52.7" y="850.2" font-size="9.6" textLength="15.6" lengthAdjust="spacingAndGlyphs">60S</text><path d="M97.2 838.1v2.5" stroke="#555" stroke-width="0.8"/><text x="89.4" y="850.2" font-size="9.6" textLength="15.6" lengthAdjust="spacingAndGlyphs">30S</text><path d="M133.9 838.1v2.5" stroke="#555" stroke-width="0.8"/><text x="128.2" y="850.2" font-size="9.6" textLength="11.5" lengthAdjust="spacingAndGlyphs">EQ</text><path d="M170.6 838.1v2.5" stroke="#555" stroke-width="0.8"/><text x="162.8" y="850.2" font-size="9.6" textLength="15.6" lengthAdjust="spacingAndGlyphs">30N</text><path d="M207.3 838.1v2.5" stroke="#555" stroke-width="0.8"/><text x="199.5" y="850.2" font-size="9.6" textLength="15.6" lengthAdjust="spacingAndGlyphs">60N</text><g clip-path="url(#cj)"><rect x="243.6" y="690.6" width="208.8" height="147.5" fill="#ffe878"/><path d="M238.9 700.4C240.7 699.7 246.3 697.3 249.3 696.3C252.2 695.2 254.3 693.7 256.5 694.2C258.8 694.7 261.0 696.8 262.7 699.4C264.5 702.0 265.3 708.4 266.9 709.7C268.4 711.1 270.2 707.0 272.1 707.7C274.0 708.4 276.7 710.9 278.3 713.9C279.8 716.8 280.8 720.6 281.4 725.3C282.0 729.9 282.2 737.0 282.0 741.8C281.8 746.7 281.6 752.9 280.3 754.2C279.0 755.6 276.2 752.4 274.1 750.1C272.1 747.9 270.0 741.0 267.9 740.8C265.8 740.6 263.9 746.7 261.7 749.1C259.5 751.5 256.9 754.4 254.5 755.3C252.0 756.1 249.8 754.8 247.2 754.2C244.6 753.7 240.3 752.5 238.9 752.2Z" fill="#fffaaa"/><path d="M456.7 774.5C454.3 774.8 446.7 775.6 442.2 776.0C437.7 776.4 434.6 776.9 429.8 777.0C425.0 777.2 417.7 777.7 413.2 777.0C408.8 776.3 405.7 774.4 402.9 772.9C400.1 771.3 399.1 768.7 396.7 767.7C394.3 766.7 389.8 767.9 388.4 766.7C387.0 765.5 387.7 763.2 388.4 760.5C389.1 757.7 392.4 753.6 392.5 750.1C392.7 746.7 390.5 743.2 389.4 739.8C388.4 736.3 388.2 732.0 386.3 729.4C384.4 726.8 380.5 724.7 378.1 724.2C375.6 723.7 373.7 727.0 371.8 726.3C369.9 725.6 367.9 719.6 366.7 720.1C365.5 720.6 365.5 726.8 364.6 729.4C363.7 732.0 363.0 736.0 361.5 735.6C359.9 735.3 357.0 730.8 355.3 727.3C353.6 723.9 352.5 717.7 351.1 714.9C349.8 712.2 348.8 711.1 347.0 710.8C345.2 710.4 343.5 711.8 340.4 712.8C337.2 713.9 332.4 715.4 328.0 717.0C323.5 718.5 317.9 721.1 313.5 722.2C309.0 723.2 304.5 722.0 301.0 723.2C297.6 724.4 294.5 726.3 292.8 729.4C291.0 732.5 290.9 737.3 290.7 741.8C290.5 746.3 291.4 753.4 291.7 756.3C292.1 759.3 291.2 758.2 292.8 759.4C294.3 760.6 299.1 762.0 301.0 763.6C302.9 765.1 304.1 766.8 304.1 768.7C304.1 770.6 303.6 773.2 301.0 775.0C298.5 776.7 292.4 777.4 288.6 779.1C284.8 780.8 282.1 783.6 278.3 785.3C274.5 787.0 270.0 788.4 265.8 789.4C261.7 790.5 257.9 791.2 253.4 791.5C248.9 791.9 241.3 791.5 238.9 791.5L235.0 845.0L460.0 845.0Z" fill="#fffaaa"/><path d="M284.5 685.9C284.5 689.0 283.8 700.1 284.5 704.6C285.2 709.0 286.5 711.3 288.6 712.8C290.7 714.4 293.8 714.1 296.9 713.9C300.0 713.7 304.5 713.0 307.2 711.8C310.0 710.6 312.3 710.9 313.5 706.6C314.7 702.3 314.3 689.4 314.5 685.9Z" fill="#ffc03c"/><path d="M380.1 685.9C380.1 689.7 379.3 705.1 380.1 708.7C381.0 712.3 383.9 708.4 385.3 707.7C386.7 707.0 386.9 704.4 388.4 704.6C390.0 704.7 392.5 708.2 394.6 708.7C396.7 709.2 399.3 709.7 400.8 707.7C402.4 705.6 402.2 698.2 403.9 696.3C405.7 694.4 409.6 698.0 411.2 696.3C412.7 694.6 412.9 687.7 413.2 685.9Z" fill="#ffc03c"/><path d="M359.2 691.5C359.5 690.8 361.1 690.5 361.5 691.1C361.9 691.7 362.0 694.5 361.7 695.2C361.4 696.0 360.0 696.3 359.6 695.7C359.2 695.0 358.9 692.3 359.2 691.5Z" fill="#ffc03c"/><path d="M421.9 702.9C422.3 702.1 423.8 701.9 424.2 702.5C424.6 703.1 424.7 705.9 424.4 706.6C424.1 707.4 422.8 707.7 422.4 707.0C421.9 706.4 421.6 703.7 421.9 702.9Z" fill="#ffc03c"/><path d="M431.7 709.1C432.0 708.4 433.5 708.1 434.0 708.7C434.4 709.3 434.5 712.1 434.2 712.8C433.8 713.6 432.5 713.9 432.1 713.3C431.7 712.6 431.4 709.9 431.7 709.1Z" fill="#ffc03c"/><path d="M243.6 696.06H452.4M243.6 701.53H452.4M243.6 706.99H452.4M243.6 712.45H452.4M243.6 717.91H452.4M243.6 723.38H452.4M243.6 728.84H452.4M243.6 734.30H452.4M243.6 739.77H452.4M243.6 745.23H452.4M243.6 750.69H452.4M243.6 756.16H452.4M243.6 761.62H452.4M243.6 767.08H452.4M243.6 772.54H452.4M243.6 778.01H452.4M243.6 783.47H452.4M243.6 788.93H452.4M243.6 794.40H452.4M243.6 799.86H452.4M243.6 805.32H452.4M243.6 810.79H452.4M243.6 816.25H452.4M243.6 821.71H452.4M243.6 827.17H452.4M243.6 832.64H452.4" stroke="#fff" stroke-opacity="0.3" stroke-width="0.75" fill="none"/><path d="M238.9 807.0C241.3 806.9 248.9 806.9 253.4 806.0C257.9 805.1 261.7 803.6 265.8 801.9C270.0 800.1 274.5 797.7 278.3 795.7C282.1 793.6 284.5 791.2 288.6 789.4C292.8 787.7 297.9 786.3 303.1 785.3C308.3 784.3 314.8 783.9 319.7 783.2C324.5 782.5 327.5 782.2 332.1 781.2C336.6 780.1 343.1 777.0 347.0 777.0C350.9 777.0 352.2 780.5 355.3 781.2C358.4 781.9 362.5 781.3 365.6 781.2C368.7 781.0 370.8 779.8 373.9 780.1C377.0 780.5 380.8 782.0 384.3 783.2C387.7 784.4 390.8 786.2 394.6 787.4C398.4 788.6 402.6 790.0 407.0 790.5C411.5 791.0 416.7 790.8 421.5 790.5C426.4 790.1 430.2 788.8 436.0 788.4C441.9 788.1 453.3 788.4 456.7 788.4L460.0 845.0L235.0 845.0Z" fill="#e1ffff"/><path d="M238.9 814.3C242.0 813.9 253.1 812.9 257.6 812.2C262.0 811.5 262.7 810.5 265.8 810.1C268.9 809.8 273.4 811.2 276.2 810.1C279.0 809.1 280.3 805.7 282.4 803.9C284.5 802.2 286.5 799.8 288.6 799.8C290.7 799.8 291.7 803.9 294.8 803.9C297.9 803.9 302.4 801.2 307.2 799.8C312.1 798.4 319.0 796.7 323.8 795.7C328.6 794.6 332.4 794.7 336.2 793.6C340.1 792.4 343.8 789.0 347.0 788.8C350.2 788.7 352.2 791.9 355.3 792.6C358.4 793.2 362.5 792.2 365.6 792.6C368.7 792.9 370.8 794.1 373.9 794.6C377.0 795.1 381.2 794.6 384.3 795.7C387.4 796.7 389.1 799.5 392.5 800.8C396.0 802.2 400.8 803.1 405.0 803.9C409.1 804.8 413.2 805.8 417.4 806.0C421.5 806.2 426.0 805.1 429.8 805.0C433.6 804.8 435.7 804.6 440.2 805.0C444.6 805.4 454.0 807.0 456.7 807.5L460.0 845.0L235.0 845.0Z" fill="#96d2fa"/><path d="M238.9 820.5C242.7 820.3 255.5 819.5 261.7 819.5C267.9 819.5 272.7 821.0 276.2 820.5C279.6 820.0 280.3 817.9 282.4 816.4C284.5 814.8 286.9 811.5 288.6 811.2C290.3 810.8 291.6 812.7 292.8 814.3C294.0 815.8 294.8 820.5 295.9 820.5C296.9 820.5 297.1 816.4 299.0 814.3C300.9 812.2 304.8 808.8 307.2 808.1C309.7 807.4 310.7 810.5 313.5 810.1C316.2 809.8 320.4 807.2 323.8 806.0C327.3 804.8 330.3 803.2 334.2 802.9C338.0 802.6 343.1 803.6 347.0 803.9C350.9 804.3 354.2 805.0 357.4 805.0C360.5 805.0 362.5 803.1 365.6 803.9C368.7 804.8 372.2 808.9 376.0 810.1C379.8 811.4 384.3 811.0 388.4 811.2C392.5 811.4 396.7 811.0 400.8 811.2C405.0 811.4 408.4 811.7 413.2 812.2C418.1 812.7 422.6 813.5 429.8 814.3C437.1 815.0 452.2 816.4 456.7 816.8L460.0 845.0L235.0 845.0Z" fill="#78b9fa"/><path d="M238.9 826.7C242.7 826.5 255.5 825.5 261.7 825.7C267.9 825.8 271.7 827.7 276.2 827.7C280.7 827.7 284.1 826.5 288.6 825.7C293.1 824.8 297.9 823.4 303.1 822.6C308.3 821.7 314.5 821.4 319.7 820.5C324.8 819.6 329.6 817.8 334.2 817.4C338.7 816.9 343.1 817.5 347.0 817.8C350.9 818.2 353.9 818.5 357.4 819.5C360.8 820.4 363.9 823.3 367.7 823.6C371.5 824.0 375.3 821.7 380.1 821.5C385.0 821.4 391.2 822.2 396.7 822.6C402.2 822.9 407.7 823.3 413.2 823.6C418.8 824.0 422.6 824.1 429.8 824.6C437.1 825.2 452.2 826.7 456.7 827.1L460.0 845.0L235.0 845.0Z" fill="#50a5f5"/><path d="M238.9 830.9C242.7 830.9 254.5 830.9 261.7 830.9C268.9 830.9 275.5 831.2 282.4 830.9C289.3 830.5 296.2 829.5 303.1 828.8C310.0 828.1 316.5 827.2 323.8 826.7C331.1 826.3 340.4 825.9 347.0 826.1C353.6 826.3 358.0 827.8 363.6 827.7C369.1 827.7 373.9 825.5 380.1 825.7C386.3 825.8 393.9 827.9 400.8 828.8C407.7 829.6 412.2 830.1 421.5 830.9C430.8 831.6 450.9 832.9 456.7 833.3L460.0 845.0L235.0 845.0Z" fill="#3c96f5"/><rect x="289.0" y="834.5" width="12.0" height="4" fill="#fff"/><rect x="324.8" y="834.5" width="12.4" height="4" fill="#fff"/><rect x="348.0" y="834.5" width="9.7" height="4" fill="#fff"/><path d="M243.6 696.06H452.4M243.6 701.53H452.4M243.6 706.99H452.4M243.6 712.45H452.4M243.6 717.91H452.4M243.6 723.38H452.4M243.6 728.84H452.4M243.6 734.30H452.4M243.6 739.77H452.4M243.6 745.23H452.4M243.6 750.69H452.4M243.6 756.16H452.4M243.6 761.62H452.4M243.6 767.08H452.4M243.6 772.54H452.4M243.6 778.01H452.4M243.6 783.47H452.4M243.6 788.93H452.4M243.6 794.40H452.4M243.6 799.86H452.4M243.6 805.32H452.4M243.6 810.79H452.4M243.6 816.25H452.4M243.6 821.71H452.4M243.6 827.17H452.4M243.6 832.64H452.4" stroke="#fff" stroke-opacity="0.1" stroke-width="0.75" fill="none"/></g><rect x="243.6" y="690.6" width="208.8" height="147.5" fill="none" stroke="#000" stroke-width="1.1"/><text x="248.3" y="687.9" font-size="11" letter-spacing="0.9">(j)</text><path d="M243.6 690.6h-2" stroke="#999" stroke-width="0.8"/><path d="M243.6 727.5h-2" stroke="#999" stroke-width="0.8"/><path d="M243.6 764.4h-2" stroke="#999" stroke-width="0.8"/><path d="M243.6 801.2h-2" stroke="#999" stroke-width="0.8"/><path d="M243.6 838.1h-2" stroke="#999" stroke-width="0.8"/><path d="M274.6 838.1v2.5" stroke="#555" stroke-width="0.8"/><text x="266.8" y="850.2" font-size="9.6" textLength="15.6" lengthAdjust="spacingAndGlyphs">60S</text><path d="M311.3 838.1v2.5" stroke="#555" stroke-width="0.8"/><text x="303.5" y="850.2" font-size="9.6" textLength="15.6" lengthAdjust="spacingAndGlyphs">30S</text><path d="M348.0 838.1v2.5" stroke="#555" stroke-width="0.8"/><text x="342.2" y="850.2" font-size="9.6" textLength="11.5" lengthAdjust="spacingAndGlyphs">EQ</text><path d="M384.7 838.1v2.5" stroke="#555" stroke-width="0.8"/><text x="376.9" y="850.2" font-size="9.6" textLength="15.6" lengthAdjust="spacingAndGlyphs">30N</text><path d="M421.4 838.1v2.5" stroke="#555" stroke-width="0.8"/><text x="413.6" y="850.2" font-size="9.6" textLength="15.6" lengthAdjust="spacingAndGlyphs">60N</text><text x="121.2" y="14.2" font-size="9.6" textLength="25.0" lengthAdjust="spacingAndGlyphs">D J F</text><text x="333.3" y="14.2" font-size="9.6" textLength="26.7" lengthAdjust="spacingAndGlyphs">J J A</text><g transform="translate(9.2 264.2) rotate(-90)"><text x="-35.5" y="0.0" font-size="9.6" textLength="71.0" lengthAdjust="spacingAndGlyphs">Altitude (km)</text></g><g transform="translate(9.2 598.2) rotate(-90)"><text x="-35.5" y="0.0" font-size="9.6" textLength="71.0" lengthAdjust="spacingAndGlyphs">Altitude (km)</text></g><rect x="460.6" y="156.34" width="5.9" height="14.86" fill="#3c96f5" stroke="#112" stroke-width="1"/><rect x="460.6" y="141.48" width="5.9" height="14.86" fill="#50a5f5" stroke="#112" stroke-width="1"/><rect x="460.6" y="126.62" width="5.9" height="14.86" fill="#78b9fa" stroke="#112" stroke-width="1"/><rect x="460.6" y="111.76" width="5.9" height="14.86" fill="#96d2fa" stroke="#112" stroke-width="1"/><rect x="460.6" y="96.90" width="5.9" height="14.86" fill="#e1ffff" stroke="#112" stroke-width="1"/><rect x="460.6" y="82.04" width="5.9" height="14.86" fill="#ffe878" stroke="#112" stroke-width="1"/><rect x="460.6" y="67.18" width="5.9" height="14.86" fill="#ffc03c" stroke="#112" stroke-width="1"/><rect x="460.6" y="52.32" width="5.9" height="14.86" fill="#ffa000" stroke="#112" stroke-width="1"/><rect x="460.6" y="37.46" width="5.9" height="14.86" fill="#ff6000" stroke="#112" stroke-width="1"/><rect x="460.6" y="22.60" width="5.9" height="14.86" fill="#ff3200" stroke="#112" stroke-width="1"/><text x="468.3" y="159.0" font-size="5.8" textLength="3.5" lengthAdjust="spacingAndGlyphs">4</text><text x="468.3" y="144.2" font-size="5.8" textLength="8.8" lengthAdjust="spacingAndGlyphs">4.2</text><text x="468.3" y="129.3" font-size="5.8" textLength="8.8" lengthAdjust="spacingAndGlyphs">4.5</text><text x="468.3" y="114.5" font-size="5.8" textLength="8.8" lengthAdjust="spacingAndGlyphs">4.8</text><text x="468.3" y="99.6" font-size="5.8" textLength="8.8" lengthAdjust="spacingAndGlyphs">5.1</text><text x="468.3" y="84.7" font-size="5.8" textLength="8.8" lengthAdjust="spacingAndGlyphs">5.4</text><text x="468.3" y="69.9" font-size="5.8" textLength="8.8" lengthAdjust="spacingAndGlyphs">5.7</text><text x="468.3" y="55.0" font-size="5.8" textLength="3.5" lengthAdjust="spacingAndGlyphs">6</text><text x="468.3" y="40.2" font-size="5.8" textLength="8.8" lengthAdjust="spacingAndGlyphs">6.2</text><g transform="translate(490.3 97.4) rotate(-90)"><text x="-31.2" y="0.0" font-size="10" textLength="62.5" lengthAdjust="spacingAndGlyphs">H<tspan font-size="6" dy="2">2</tspan><tspan dy="-2">O (ppmv)</tspan></text></g><rect x="460.6" y="323.25" width="5.9" height="14.85" fill="#3c96f5" stroke="#112" stroke-width="1"/><rect x="460.6" y="308.40" width="5.9" height="14.85" fill="#50a5f5" stroke="#112" stroke-width="1"/><rect x="460.6" y="293.55" width="5.9" height="14.85" fill="#78b9fa" stroke="#112" stroke-width="1"/><rect x="460.6" y="278.70" width="5.9" height="14.85" fill="#96d2fa" stroke="#112" stroke-width="1"/><rect x="460.6" y="263.85" width="5.9" height="14.85" fill="#e1ffff" stroke="#112" stroke-width="1"/><rect x="460.6" y="249.00" width="5.9" height="14.85" fill="#ffe878" stroke="#112" stroke-width="1"/><rect x="460.6" y="234.15" width="5.9" height="14.85" fill="#ffc03c" stroke="#112" stroke-width="1"/><rect x="460.6" y="219.30" width="5.9" height="14.85" fill="#ffa000" stroke="#112" stroke-width="1"/><rect x="460.6" y="204.45" width="5.9" height="14.85" fill="#ff6000" stroke="#112" stroke-width="1"/><rect x="460.6" y="189.60" width="5.9" height="14.85" fill="#ff3200" stroke="#112" stroke-width="1"/><text x="468.3" y="325.9" font-size="5.8" textLength="8.8" lengthAdjust="spacingAndGlyphs">0.4</text><text x="468.3" y="311.1" font-size="5.8" textLength="8.8" lengthAdjust="spacingAndGlyphs">0.5</text><text x="468.3" y="296.2" font-size="5.8" textLength="8.8" lengthAdjust="spacingAndGlyphs">0.6</text><text x="468.3" y="281.4" font-size="5.8" textLength="8.8" lengthAdjust="spacingAndGlyphs">0.7</text><text x="468.3" y="266.6" font-size="5.8" textLength="8.8" lengthAdjust="spacingAndGlyphs">0.8</text><text x="468.3" y="251.7" font-size="5.8" textLength="8.8" lengthAdjust="spacingAndGlyphs">0.9</text><text x="468.3" y="236.8" font-size="5.8" textLength="3.5" lengthAdjust="spacingAndGlyphs">1</text><text x="468.3" y="222.0" font-size="5.8" textLength="8.8" lengthAdjust="spacingAndGlyphs">1.1</text><text x="468.3" y="207.1" font-size="5.8" textLength="8.8" lengthAdjust="spacingAndGlyphs">1.2</text><g transform="translate(490.3 264.4) rotate(-90)"><text x="-32.0" y="0.0" font-size="10" textLength="64.0" lengthAdjust="spacingAndGlyphs">HDO (ppbv)</text></g><rect x="460.6" y="490.26" width="5.9" height="14.84" fill="#3c96f5" stroke="#112" stroke-width="1"/><rect x="460.6" y="475.42" width="5.9" height="14.84" fill="#50a5f5" stroke="#112" stroke-width="1"/><rect x="460.6" y="460.58" width="5.9" height="14.84" fill="#78b9fa" stroke="#112" stroke-width="1"/><rect x="460.6" y="445.74" width="5.9" height="14.84" fill="#96d2fa" stroke="#112" stroke-width="1"/><rect x="460.6" y="430.90" width="5.9" height="14.84" fill="#e1ffff" stroke="#112" stroke-width="1"/><rect x="460.6" y="416.06" width="5.9" height="14.84" fill="#ffe878" stroke="#112" stroke-width="1"/><rect x="460.6" y="401.22" width="5.9" height="14.84" fill="#ffc03c" stroke="#112" stroke-width="1"/><rect x="460.6" y="386.38" width="5.9" height="14.84" fill="#ffa000" stroke="#112" stroke-width="1"/><rect x="460.6" y="371.54" width="5.9" height="14.84" fill="#ff6000" stroke="#112" stroke-width="1"/><rect x="460.6" y="356.70" width="5.9" height="14.84" fill="#ff3200" stroke="#112" stroke-width="1"/><text x="468.3" y="493.0" font-size="5.8" textLength="3.5" lengthAdjust="spacingAndGlyphs">6</text><text x="468.3" y="478.1" font-size="5.8" textLength="3.5" lengthAdjust="spacingAndGlyphs">7</text><text x="468.3" y="463.3" font-size="5.8" textLength="3.5" lengthAdjust="spacingAndGlyphs">8</text><text x="468.3" y="448.4" font-size="5.8" textLength="3.5" lengthAdjust="spacingAndGlyphs">9</text><text x="468.3" y="433.6" font-size="5.8" textLength="6.9" lengthAdjust="spacingAndGlyphs">10</text><text x="468.3" y="418.8" font-size="5.8" textLength="6.9" lengthAdjust="spacingAndGlyphs">11</text><text x="468.3" y="403.9" font-size="5.8" textLength="6.9" lengthAdjust="spacingAndGlyphs">12</text><text x="468.3" y="389.1" font-size="5.8" textLength="12.2" lengthAdjust="spacingAndGlyphs">12.5</text><text x="468.3" y="374.2" font-size="5.8" textLength="6.9" lengthAdjust="spacingAndGlyphs">13</text><g transform="translate(490.3 431.4) rotate(-90)"><text x="-33.0" y="0.0" font-size="10" textLength="66.0" lengthAdjust="spacingAndGlyphs">H<tspan font-size="6" dy="2">2</tspan><tspan font-size="6" dy="-6">18</tspan><tspan dy="4">O (ppbv)</tspan></text></g><rect x="461.4" y="657.32" width="6.0" height="14.78" fill="#3c96f5" stroke="#112" stroke-width="1"/><rect x="461.4" y="642.54" width="6.0" height="14.78" fill="#50a5f5" stroke="#112" stroke-width="1"/><rect x="461.4" y="627.76" width="6.0" height="14.78" fill="#78b9fa" stroke="#112" stroke-width="1"/><rect x="461.4" y="612.98" width="6.0" height="14.78" fill="#96d2fa" stroke="#112" stroke-width="1"/><rect x="461.4" y="598.20" width="6.0" height="14.78" fill="#e1ffff" stroke="#112" stroke-width="1"/><rect x="461.4" y="583.42" width="6.0" height="14.78" fill="#fffaaa" stroke="#112" stroke-width="1"/><rect x="461.4" y="568.64" width="6.0" height="14.78" fill="#ffe878" stroke="#112" stroke-width="1"/><rect x="461.4" y="553.86" width="6.0" height="14.78" fill="#ffc03c" stroke="#112" stroke-width="1"/><rect x="461.4" y="539.08" width="6.0" height="14.78" fill="#ffa000" stroke="#112" stroke-width="1"/><rect x="461.4" y="524.30" width="6.0" height="14.78" fill="#ff6000" stroke="#112" stroke-width="1"/><text x="469.3" y="660.0" font-size="5.8" textLength="14.4" lengthAdjust="spacingAndGlyphs">-640</text><text x="469.3" y="645.2" font-size="5.8" textLength="14.4" lengthAdjust="spacingAndGlyphs">-600</text><text x="469.3" y="630.5" font-size="5.8" textLength="14.4" lengthAdjust="spacingAndGlyphs">-560</text><text x="469.3" y="615.7" font-size="5.8" textLength="14.4" lengthAdjust="spacingAndGlyphs">-520</text><text x="469.3" y="600.9" font-size="5.8" textLength="14.4" lengthAdjust="spacingAndGlyphs">-480</text><text x="469.3" y="586.1" font-size="5.8" textLength="14.4" lengthAdjust="spacingAndGlyphs">-440</text><text x="469.3" y="571.3" font-size="5.8" textLength="14.4" lengthAdjust="spacingAndGlyphs">-400</text><text x="469.3" y="556.6" font-size="5.8" textLength="14.4" lengthAdjust="spacingAndGlyphs">-360</text><text x="469.3" y="541.8" font-size="5.8" textLength="14.4" lengthAdjust="spacingAndGlyphs">-320</text><g transform="translate(498.0 598.7) rotate(-90)"><text x="-35.0" y="0.0" font-size="10" textLength="70.0" lengthAdjust="spacingAndGlyphs">&#948;D (per mil)</text></g><rect x="461.4" y="823.35" width="6.0" height="14.75" fill="#3c96f5" stroke="#112" stroke-width="1"/><rect x="461.4" y="808.60" width="6.0" height="14.75" fill="#50a5f5" stroke="#112" stroke-width="1"/><rect x="461.4" y="793.85" width="6.0" height="14.75" fill="#78b9fa" stroke="#112" stroke-width="1"/><rect x="461.4" y="779.10" width="6.0" height="14.75" fill="#96d2fa" stroke="#112" stroke-width="1"/><rect x="461.4" y="764.35" width="6.0" height="14.75" fill="#e1ffff" stroke="#112" stroke-width="1"/><rect x="461.4" y="749.60" width="6.0" height="14.75" fill="#fffaaa" stroke="#112" stroke-width="1"/><rect x="461.4" y="734.85" width="6.0" height="14.75" fill="#ffe878" stroke="#112" stroke-width="1"/><rect x="461.4" y="720.10" width="6.0" height="14.75" fill="#ffc03c" stroke="#112" stroke-width="1"/><rect x="461.4" y="705.35" width="6.0" height="14.75" fill="#ffa000" stroke="#112" stroke-width="1"/><rect x="461.4" y="690.60" width="6.0" height="14.75" fill="#ff6000" stroke="#112" stroke-width="1"/><text x="469.3" y="826.1" font-size="5.8" textLength="14.4" lengthAdjust="spacingAndGlyphs">-160</text><text x="469.3" y="811.3" font-size="5.8" textLength="14.4" lengthAdjust="spacingAndGlyphs">-120</text><text x="469.3" y="796.6" font-size="5.8" textLength="10.9" lengthAdjust="spacingAndGlyphs">-80</text><text x="469.3" y="781.8" font-size="5.8" textLength="10.9" lengthAdjust="spacingAndGlyphs">-40</text><text x="469.3" y="767.1" font-size="5.8" textLength="3.5" lengthAdjust="spacingAndGlyphs">0</text><text x="469.3" y="752.3" font-size="5.8" textLength="6.9" lengthAdjust="spacingAndGlyphs">40</text><text x="469.3" y="737.6" font-size="5.8" textLength="6.9" lengthAdjust="spacingAndGlyphs">80</text><text x="469.3" y="722.8" font-size="5.8" textLength="10.4" lengthAdjust="spacingAndGlyphs">120</text><text x="469.3" y="708.1" font-size="5.8" textLength="10.4" lengthAdjust="spacingAndGlyphs">160</text><g transform="translate(498.0 764.9) rotate(-90)"><text x="-39.0" y="0.0" font-size="10" textLength="78.0" lengthAdjust="spacingAndGlyphs">&#948;<tspan font-size="6" dy="-4">18</tspan><tspan dy="4">O (per mil)</tspan></text></g></svg></body></html>
